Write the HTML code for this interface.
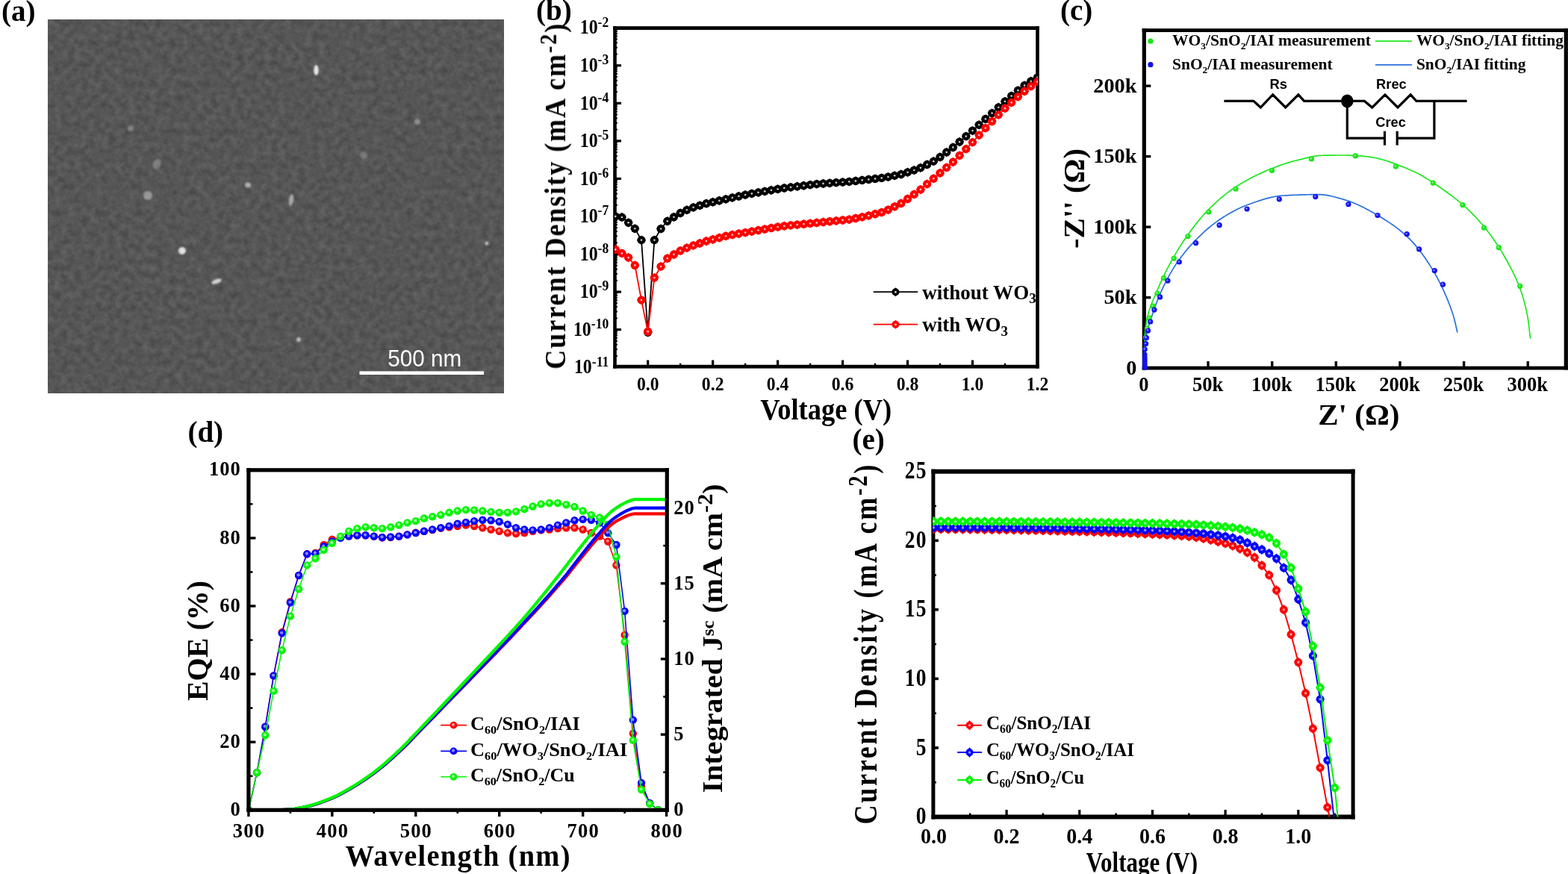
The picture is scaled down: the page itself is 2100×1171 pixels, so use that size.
<!DOCTYPE html>
<html lang="en">
<head>
<meta charset="utf-8">
<title>Figure: SEM, dark J-V, EIS, EQE and J-V characteristics</title>
<style>
html,body{margin:0;padding:0;background:#fff;}
body{width:2100px;height:1171px;overflow:hidden;}
svg{display:block;}
text{white-space:pre;}
.s{font-family:"Liberation Serif", "DejaVu Serif", serif;font-weight:bold;}
.n{font-family:"Liberation Sans", "DejaVu Sans", sans-serif;font-weight:bold;}
</style>
</head>
<body>
<svg width="2100" height="1171" viewBox="0 0 2100 1171">
<defs>
<filter id="sem" x="0" y="0" width="100%" height="100%" color-interpolation-filters="sRGB">
<feTurbulence type="fractalNoise" baseFrequency="0.11" numOctaves="3" seed="7" result="t"/>
<feColorMatrix in="t" type="matrix" values="0.15 0 0 0 0.262  0.15 0 0 0 0.262  0.15 0 0 0 0.262  0 0 0 0 1"/>
</filter>
<filter id="bl" x="-50%" y="-50%" width="200%" height="200%"><feGaussianBlur stdDeviation="1.3"/></filter>
</defs>
<text class="s" transform="translate(2,28)" font-size="39">(a)</text>
<rect x="64.9" y="26.5" width="609.7" height="500" fill="#575757"/>
<rect x="64.9" y="26.5" width="609.7" height="500" fill="#575757" filter="url(#sem)"/>
<g fill="#e8e8e8" filter="url(#bl)">
<ellipse cx="423.5" cy="94" rx="3.2" ry="7" opacity="1.0" transform="rotate(0 423.5 94)"/>
<ellipse cx="244" cy="336" rx="5" ry="5" opacity="0.95" transform="rotate(-20 244 336)"/>
<ellipse cx="290" cy="377" rx="7" ry="3" opacity="0.85" transform="rotate(-20 290 377)"/>
<ellipse cx="390" cy="268" rx="3" ry="8" opacity="0.55" transform="rotate(10 390 268)"/>
<ellipse cx="198" cy="262" rx="6" ry="6" opacity="0.45" transform="rotate(0 198 262)"/>
<ellipse cx="332" cy="248" rx="4" ry="3.5" opacity="0.6" transform="rotate(0 332 248)"/>
<ellipse cx="400" cy="455" rx="3" ry="3" opacity="0.7" transform="rotate(0 400 455)"/>
<ellipse cx="652" cy="326" rx="2.5" ry="2.5" opacity="0.7" transform="rotate(0 652 326)"/>
<ellipse cx="559" cy="163" rx="4" ry="4" opacity="0.35" transform="rotate(0 559 163)"/>
<ellipse cx="210" cy="220" rx="5" ry="7" opacity="0.3" transform="rotate(20 210 220)"/>
<ellipse cx="175" cy="172" rx="4" ry="4" opacity="0.3" transform="rotate(0 175 172)"/>
<ellipse cx="487" cy="208" rx="5" ry="5" opacity="0.25" transform="rotate(0 487 208)"/>
</g>
<rect x="481.5" y="497.4" width="166.5" height="4.6" fill="#fff"/>
<text class="n" transform="translate(568.7,490.6)" font-size="31.5" text-anchor="middle" style="font-weight:normal" fill="#fff" textLength="99" lengthAdjust="spacingAndGlyphs">500 nm</text>
<text class="s" transform="translate(718,26.5)" font-size="39">(b)</text>
<g stroke="#000" stroke-width="3.2">
<line x1="823.5" y1="476.93" x2="826.9" y2="476.93" stroke-width="2"/>
<line x1="823.5" y1="468.03" x2="826.9" y2="468.03" stroke-width="2"/>
<line x1="823.5" y1="461.72" x2="826.9" y2="461.72" stroke-width="2"/>
<line x1="823.5" y1="456.82" x2="826.9" y2="456.82" stroke-width="2"/>
<line x1="823.5" y1="452.81" x2="826.9" y2="452.81" stroke-width="2"/>
<line x1="823.5" y1="449.43" x2="826.9" y2="449.43" stroke-width="2"/>
<line x1="823.5" y1="446.5" x2="826.9" y2="446.5" stroke-width="2"/>
<line x1="823.5" y1="443.91" x2="826.9" y2="443.91" stroke-width="2"/>
<line x1="823.5" y1="441.6" x2="832" y2="441.6"/>
<line x1="823.5" y1="426.38" x2="826.9" y2="426.38" stroke-width="2"/>
<line x1="823.5" y1="417.48" x2="826.9" y2="417.48" stroke-width="2"/>
<line x1="823.5" y1="411.17" x2="826.9" y2="411.17" stroke-width="2"/>
<line x1="823.5" y1="406.27" x2="826.9" y2="406.27" stroke-width="2"/>
<line x1="823.5" y1="402.26" x2="826.9" y2="402.26" stroke-width="2"/>
<line x1="823.5" y1="398.88" x2="826.9" y2="398.88" stroke-width="2"/>
<line x1="823.5" y1="395.95" x2="826.9" y2="395.95" stroke-width="2"/>
<line x1="823.5" y1="393.36" x2="826.9" y2="393.36" stroke-width="2"/>
<line x1="823.5" y1="391.05" x2="832" y2="391.05"/>
<line x1="823.5" y1="375.83" x2="826.9" y2="375.83" stroke-width="2"/>
<line x1="823.5" y1="366.93" x2="826.9" y2="366.93" stroke-width="2"/>
<line x1="823.5" y1="360.62" x2="826.9" y2="360.62" stroke-width="2"/>
<line x1="823.5" y1="355.72" x2="826.9" y2="355.72" stroke-width="2"/>
<line x1="823.5" y1="351.71" x2="826.9" y2="351.71" stroke-width="2"/>
<line x1="823.5" y1="348.33" x2="826.9" y2="348.33" stroke-width="2"/>
<line x1="823.5" y1="345.4" x2="826.9" y2="345.4" stroke-width="2"/>
<line x1="823.5" y1="342.81" x2="826.9" y2="342.81" stroke-width="2"/>
<line x1="823.5" y1="340.5" x2="832" y2="340.5"/>
<line x1="823.5" y1="325.28" x2="826.9" y2="325.28" stroke-width="2"/>
<line x1="823.5" y1="316.38" x2="826.9" y2="316.38" stroke-width="2"/>
<line x1="823.5" y1="310.07" x2="826.9" y2="310.07" stroke-width="2"/>
<line x1="823.5" y1="305.17" x2="826.9" y2="305.17" stroke-width="2"/>
<line x1="823.5" y1="301.16" x2="826.9" y2="301.16" stroke-width="2"/>
<line x1="823.5" y1="297.78" x2="826.9" y2="297.78" stroke-width="2"/>
<line x1="823.5" y1="294.85" x2="826.9" y2="294.85" stroke-width="2"/>
<line x1="823.5" y1="292.26" x2="826.9" y2="292.26" stroke-width="2"/>
<line x1="823.5" y1="289.95" x2="832" y2="289.95"/>
<line x1="823.5" y1="274.73" x2="826.9" y2="274.73" stroke-width="2"/>
<line x1="823.5" y1="265.83" x2="826.9" y2="265.83" stroke-width="2"/>
<line x1="823.5" y1="259.52" x2="826.9" y2="259.52" stroke-width="2"/>
<line x1="823.5" y1="254.62" x2="826.9" y2="254.62" stroke-width="2"/>
<line x1="823.5" y1="250.61" x2="826.9" y2="250.61" stroke-width="2"/>
<line x1="823.5" y1="247.23" x2="826.9" y2="247.23" stroke-width="2"/>
<line x1="823.5" y1="244.3" x2="826.9" y2="244.3" stroke-width="2"/>
<line x1="823.5" y1="241.71" x2="826.9" y2="241.71" stroke-width="2"/>
<line x1="823.5" y1="239.4" x2="832" y2="239.4"/>
<line x1="823.5" y1="224.18" x2="826.9" y2="224.18" stroke-width="2"/>
<line x1="823.5" y1="215.28" x2="826.9" y2="215.28" stroke-width="2"/>
<line x1="823.5" y1="208.97" x2="826.9" y2="208.97" stroke-width="2"/>
<line x1="823.5" y1="204.07" x2="826.9" y2="204.07" stroke-width="2"/>
<line x1="823.5" y1="200.06" x2="826.9" y2="200.06" stroke-width="2"/>
<line x1="823.5" y1="196.68" x2="826.9" y2="196.68" stroke-width="2"/>
<line x1="823.5" y1="193.75" x2="826.9" y2="193.75" stroke-width="2"/>
<line x1="823.5" y1="191.16" x2="826.9" y2="191.16" stroke-width="2"/>
<line x1="823.5" y1="188.85" x2="832" y2="188.85"/>
<line x1="823.5" y1="173.63" x2="826.9" y2="173.63" stroke-width="2"/>
<line x1="823.5" y1="164.73" x2="826.9" y2="164.73" stroke-width="2"/>
<line x1="823.5" y1="158.42" x2="826.9" y2="158.42" stroke-width="2"/>
<line x1="823.5" y1="153.52" x2="826.9" y2="153.52" stroke-width="2"/>
<line x1="823.5" y1="149.51" x2="826.9" y2="149.51" stroke-width="2"/>
<line x1="823.5" y1="146.13" x2="826.9" y2="146.13" stroke-width="2"/>
<line x1="823.5" y1="143.2" x2="826.9" y2="143.2" stroke-width="2"/>
<line x1="823.5" y1="140.61" x2="826.9" y2="140.61" stroke-width="2"/>
<line x1="823.5" y1="138.3" x2="832" y2="138.3"/>
<line x1="823.5" y1="123.08" x2="826.9" y2="123.08" stroke-width="2"/>
<line x1="823.5" y1="114.18" x2="826.9" y2="114.18" stroke-width="2"/>
<line x1="823.5" y1="107.87" x2="826.9" y2="107.87" stroke-width="2"/>
<line x1="823.5" y1="102.97" x2="826.9" y2="102.97" stroke-width="2"/>
<line x1="823.5" y1="98.96" x2="826.9" y2="98.96" stroke-width="2"/>
<line x1="823.5" y1="95.58" x2="826.9" y2="95.58" stroke-width="2"/>
<line x1="823.5" y1="92.65" x2="826.9" y2="92.65" stroke-width="2"/>
<line x1="823.5" y1="90.06" x2="826.9" y2="90.06" stroke-width="2"/>
<line x1="823.5" y1="87.75" x2="832" y2="87.75"/>
<line x1="823.5" y1="72.53" x2="826.9" y2="72.53" stroke-width="2"/>
<line x1="823.5" y1="63.63" x2="826.9" y2="63.63" stroke-width="2"/>
<line x1="823.5" y1="57.32" x2="826.9" y2="57.32" stroke-width="2"/>
<line x1="823.5" y1="52.42" x2="826.9" y2="52.42" stroke-width="2"/>
<line x1="823.5" y1="48.41" x2="826.9" y2="48.41" stroke-width="2"/>
<line x1="823.5" y1="45.03" x2="826.9" y2="45.03" stroke-width="2"/>
<line x1="823.5" y1="42.1" x2="826.9" y2="42.1" stroke-width="2"/>
<line x1="823.5" y1="39.51" x2="826.9" y2="39.51" stroke-width="2"/>
<line x1="867.7" y1="491.2" x2="867.7" y2="482.5"/>
<line x1="911.18" y1="491.2" x2="911.18" y2="486.8" stroke-width="2.4"/>
<line x1="954.66" y1="491.2" x2="954.66" y2="482.5"/>
<line x1="998.14" y1="491.2" x2="998.14" y2="486.8" stroke-width="2.4"/>
<line x1="1041.62" y1="491.2" x2="1041.62" y2="482.5"/>
<line x1="1085.1" y1="491.2" x2="1085.1" y2="486.8" stroke-width="2.4"/>
<line x1="1128.58" y1="491.2" x2="1128.58" y2="482.5"/>
<line x1="1172.06" y1="491.2" x2="1172.06" y2="486.8" stroke-width="2.4"/>
<line x1="1215.54" y1="491.2" x2="1215.54" y2="482.5"/>
<line x1="1259.02" y1="491.2" x2="1259.02" y2="486.8" stroke-width="2.4"/>
<line x1="1302.5" y1="491.2" x2="1302.5" y2="482.5"/>
<line x1="1345.98" y1="491.2" x2="1345.98" y2="486.8" stroke-width="2.4"/>
<line x1="1389.46" y1="491.2" x2="1389.46" y2="482.5"/>
</g>
<text class="s" transform="translate(815.3,500.35) scale(0.9,1)" font-size="26.5" text-anchor="end">10<tspan dy="-9.8" font-size="19.61">-11</tspan></text>
<text class="s" transform="translate(815.3,449.8) scale(0.9,1)" font-size="26.5" text-anchor="end">10<tspan dy="-9.8" font-size="19.61">-10</tspan></text>
<text class="s" transform="translate(815.3,399.25) scale(0.9,1)" font-size="26.5" text-anchor="end">10<tspan dy="-9.8" font-size="19.61">-9</tspan></text>
<text class="s" transform="translate(815.3,348.7) scale(0.9,1)" font-size="26.5" text-anchor="end">10<tspan dy="-9.8" font-size="19.61">-8</tspan></text>
<text class="s" transform="translate(815.3,298.15) scale(0.9,1)" font-size="26.5" text-anchor="end">10<tspan dy="-9.8" font-size="19.61">-7</tspan></text>
<text class="s" transform="translate(815.3,247.6) scale(0.9,1)" font-size="26.5" text-anchor="end">10<tspan dy="-9.8" font-size="19.61">-6</tspan></text>
<text class="s" transform="translate(815.3,197.05) scale(0.9,1)" font-size="26.5" text-anchor="end">10<tspan dy="-9.8" font-size="19.61">-5</tspan></text>
<text class="s" transform="translate(815.3,146.5) scale(0.9,1)" font-size="26.5" text-anchor="end">10<tspan dy="-9.8" font-size="19.61">-4</tspan></text>
<text class="s" transform="translate(815.3,95.95) scale(0.9,1)" font-size="26.5" text-anchor="end">10<tspan dy="-9.8" font-size="19.61">-3</tspan></text>
<text class="s" transform="translate(815.3,45.4) scale(0.9,1)" font-size="26.5" text-anchor="end">10<tspan dy="-9.8" font-size="19.61">-2</tspan></text>
<text class="s" transform="translate(867.7,522.6) scale(0.93,1)" font-size="25.5" text-anchor="middle">0.0</text>
<text class="s" transform="translate(954.66,522.6) scale(0.93,1)" font-size="25.5" text-anchor="middle">0.2</text>
<text class="s" transform="translate(1041.62,522.6) scale(0.93,1)" font-size="25.5" text-anchor="middle">0.4</text>
<text class="s" transform="translate(1128.58,522.6) scale(0.93,1)" font-size="25.5" text-anchor="middle">0.6</text>
<text class="s" transform="translate(1215.54,522.6) scale(0.93,1)" font-size="25.5" text-anchor="middle">0.8</text>
<text class="s" transform="translate(1302.5,522.6) scale(0.93,1)" font-size="25.5" text-anchor="middle">1.0</text>
<text class="s" transform="translate(1389.46,522.6) scale(0.93,1)" font-size="25.5" text-anchor="middle">1.2</text>
<text class="s" transform="translate(1106.2,562.3) scale(0.89,1)" font-size="41" text-anchor="middle">Voltage (V)</text>
<text class="s" transform="translate(757,263.2) rotate(-90) scale(0.88,1)" font-size="41" text-anchor="middle" textLength="526.14" lengthAdjust="spacing">Current Density (mA cm<tspan dy="-12.3" font-size="31.98">-2</tspan><tspan dy="12.3">)</tspan></text>
<clipPath id="clipb"><rect x="822.9" y="37.6" width="567.2" height="453.6"/></clipPath>
<g fill="#000">
<rect x="821.2" y="35.2" width="570.6" height="4.8"/>
<rect x="821.2" y="488.8" width="570.6" height="4.8"/>
<rect x="821.2" y="35.2" width="4.6" height="458.4"/>
<rect x="1387.2" y="35.2" width="4.6" height="458.4"/>
</g>
<g clip-path="url(#clipb)">
<polyline points="824.22,289.9 832.92,291.01 841.61,298.31 850.31,306.23 859,321.66 867.7,445.3 876.4,321.66 885.09,306.51 893.79,296.29 902.48,290.79 911.18,285.47 919.88,281.26 928.57,277.84 937.27,275.27 945.96,272.67 954.66,270.73 963.36,268.79 972.05,266.84 980.75,264.9 989.44,262.96 998.14,261.02 1006.84,259.4 1015.53,257.87 1024.23,256.34 1032.92,254.82 1041.62,253.29 1050.32,251.97 1059.01,250.88 1067.71,249.78 1076.4,248.69 1085.1,247.59 1093.8,246.58 1102.49,245.94 1111.19,245.3 1119.88,244.66 1128.58,244.02 1137.28,243.38 1145.97,242.42 1154.67,241.42 1163.36,240.42 1172.06,239.42 1180.76,238.42 1189.45,236.99 1198.15,235.26 1206.84,233.53 1215.54,230.81 1224.24,228.02 1232.93,224.79 1241.63,220.46 1250.32,216.13 1259.02,210.44 1267.72,203.93 1276.41,197.42 1285.11,190.03 1293.8,182.62 1302.5,175.08 1311.2,167.25 1319.89,159.42 1328.59,151.59 1337.28,143.76 1345.98,135.95 1354.68,128.57 1363.37,121.19 1372.07,114.45 1380.76,108.81 1389.46,103.8" fill="none" stroke="#000" stroke-width="1.8" stroke-linejoin="round"/>
<g fill="#000">
<circle cx="824.22" cy="289.9" r="5.6"/>
<polygon points="824.22,283.7 830.22,289.9 824.22,296.1 818.22,289.9"/>
<circle cx="832.92" cy="291.01" r="5.6"/>
<polygon points="832.92,284.81 838.92,291.01 832.92,297.21 826.92,291.01"/>
<circle cx="841.61" cy="298.31" r="5.6"/>
<polygon points="841.61,292.11 847.61,298.31 841.61,304.51 835.61,298.31"/>
<circle cx="850.31" cy="306.23" r="5.6"/>
<polygon points="850.31,300.03 856.31,306.23 850.31,312.43 844.31,306.23"/>
<circle cx="859" cy="321.66" r="5.6"/>
<polygon points="859,315.46 865,321.66 859,327.86 853,321.66"/>
<circle cx="867.7" cy="445.3" r="5.6"/>
<polygon points="867.7,439.1 873.7,445.3 867.7,451.5 861.7,445.3"/>
<circle cx="876.4" cy="321.66" r="5.6"/>
<polygon points="876.4,315.46 882.4,321.66 876.4,327.86 870.4,321.66"/>
<circle cx="885.09" cy="306.51" r="5.6"/>
<polygon points="885.09,300.31 891.09,306.51 885.09,312.71 879.09,306.51"/>
<circle cx="893.79" cy="296.29" r="5.6"/>
<polygon points="893.79,290.09 899.79,296.29 893.79,302.49 887.79,296.29"/>
<circle cx="902.48" cy="290.79" r="5.6"/>
<polygon points="902.48,284.59 908.48,290.79 902.48,296.99 896.48,290.79"/>
<circle cx="911.18" cy="285.47" r="5.6"/>
<polygon points="911.18,279.27 917.18,285.47 911.18,291.67 905.18,285.47"/>
<circle cx="919.88" cy="281.26" r="5.6"/>
<polygon points="919.88,275.06 925.88,281.26 919.88,287.46 913.88,281.26"/>
<circle cx="928.57" cy="277.84" r="5.6"/>
<polygon points="928.57,271.64 934.57,277.84 928.57,284.04 922.57,277.84"/>
<circle cx="937.27" cy="275.27" r="5.6"/>
<polygon points="937.27,269.07 943.27,275.27 937.27,281.47 931.27,275.27"/>
<circle cx="945.96" cy="272.67" r="5.6"/>
<polygon points="945.96,266.47 951.96,272.67 945.96,278.87 939.96,272.67"/>
<circle cx="954.66" cy="270.73" r="5.6"/>
<polygon points="954.66,264.53 960.66,270.73 954.66,276.93 948.66,270.73"/>
<circle cx="963.36" cy="268.79" r="5.6"/>
<polygon points="963.36,262.59 969.36,268.79 963.36,274.99 957.36,268.79"/>
<circle cx="972.05" cy="266.84" r="5.6"/>
<polygon points="972.05,260.64 978.05,266.84 972.05,273.04 966.05,266.84"/>
<circle cx="980.75" cy="264.9" r="5.6"/>
<polygon points="980.75,258.7 986.75,264.9 980.75,271.1 974.75,264.9"/>
<circle cx="989.44" cy="262.96" r="5.6"/>
<polygon points="989.44,256.76 995.44,262.96 989.44,269.16 983.44,262.96"/>
<circle cx="998.14" cy="261.02" r="5.6"/>
<polygon points="998.14,254.82 1004.14,261.02 998.14,267.22 992.14,261.02"/>
<circle cx="1006.84" cy="259.4" r="5.6"/>
<polygon points="1006.84,253.2 1012.84,259.4 1006.84,265.6 1000.84,259.4"/>
<circle cx="1015.53" cy="257.87" r="5.6"/>
<polygon points="1015.53,251.67 1021.53,257.87 1015.53,264.07 1009.53,257.87"/>
<circle cx="1024.23" cy="256.34" r="5.6"/>
<polygon points="1024.23,250.14 1030.23,256.34 1024.23,262.54 1018.23,256.34"/>
<circle cx="1032.92" cy="254.82" r="5.6"/>
<polygon points="1032.92,248.62 1038.92,254.82 1032.92,261.02 1026.92,254.82"/>
<circle cx="1041.62" cy="253.29" r="5.6"/>
<polygon points="1041.62,247.09 1047.62,253.29 1041.62,259.49 1035.62,253.29"/>
<circle cx="1050.32" cy="251.97" r="5.6"/>
<polygon points="1050.32,245.77 1056.32,251.97 1050.32,258.17 1044.32,251.97"/>
<circle cx="1059.01" cy="250.88" r="5.6"/>
<polygon points="1059.01,244.68 1065.01,250.88 1059.01,257.08 1053.01,250.88"/>
<circle cx="1067.71" cy="249.78" r="5.6"/>
<polygon points="1067.71,243.58 1073.71,249.78 1067.71,255.98 1061.71,249.78"/>
<circle cx="1076.4" cy="248.69" r="5.6"/>
<polygon points="1076.4,242.49 1082.4,248.69 1076.4,254.89 1070.4,248.69"/>
<circle cx="1085.1" cy="247.59" r="5.6"/>
<polygon points="1085.1,241.39 1091.1,247.59 1085.1,253.79 1079.1,247.59"/>
<circle cx="1093.8" cy="246.58" r="5.6"/>
<polygon points="1093.8,240.38 1099.8,246.58 1093.8,252.78 1087.8,246.58"/>
<circle cx="1102.49" cy="245.94" r="5.6"/>
<polygon points="1102.49,239.74 1108.49,245.94 1102.49,252.14 1096.49,245.94"/>
<circle cx="1111.19" cy="245.3" r="5.6"/>
<polygon points="1111.19,239.1 1117.19,245.3 1111.19,251.5 1105.19,245.3"/>
<circle cx="1119.88" cy="244.66" r="5.6"/>
<polygon points="1119.88,238.46 1125.88,244.66 1119.88,250.86 1113.88,244.66"/>
<circle cx="1128.58" cy="244.02" r="5.6"/>
<polygon points="1128.58,237.82 1134.58,244.02 1128.58,250.22 1122.58,244.02"/>
<circle cx="1137.28" cy="243.38" r="5.6"/>
<polygon points="1137.28,237.18 1143.28,243.38 1137.28,249.58 1131.28,243.38"/>
<circle cx="1145.97" cy="242.42" r="5.6"/>
<polygon points="1145.97,236.22 1151.97,242.42 1145.97,248.62 1139.97,242.42"/>
<circle cx="1154.67" cy="241.42" r="5.6"/>
<polygon points="1154.67,235.22 1160.67,241.42 1154.67,247.62 1148.67,241.42"/>
<circle cx="1163.36" cy="240.42" r="5.6"/>
<polygon points="1163.36,234.22 1169.36,240.42 1163.36,246.62 1157.36,240.42"/>
<circle cx="1172.06" cy="239.42" r="5.6"/>
<polygon points="1172.06,233.22 1178.06,239.42 1172.06,245.62 1166.06,239.42"/>
<circle cx="1180.76" cy="238.42" r="5.6"/>
<polygon points="1180.76,232.22 1186.76,238.42 1180.76,244.62 1174.76,238.42"/>
<circle cx="1189.45" cy="236.99" r="5.6"/>
<polygon points="1189.45,230.79 1195.45,236.99 1189.45,243.19 1183.45,236.99"/>
<circle cx="1198.15" cy="235.26" r="5.6"/>
<polygon points="1198.15,229.06 1204.15,235.26 1198.15,241.46 1192.15,235.26"/>
<circle cx="1206.84" cy="233.53" r="5.6"/>
<polygon points="1206.84,227.33 1212.84,233.53 1206.84,239.73 1200.84,233.53"/>
<circle cx="1215.54" cy="230.81" r="5.6"/>
<polygon points="1215.54,224.61 1221.54,230.81 1215.54,237.01 1209.54,230.81"/>
<circle cx="1224.24" cy="228.02" r="5.6"/>
<polygon points="1224.24,221.82 1230.24,228.02 1224.24,234.22 1218.24,228.02"/>
<circle cx="1232.93" cy="224.79" r="5.6"/>
<polygon points="1232.93,218.59 1238.93,224.79 1232.93,230.99 1226.93,224.79"/>
<circle cx="1241.63" cy="220.46" r="5.6"/>
<polygon points="1241.63,214.26 1247.63,220.46 1241.63,226.66 1235.63,220.46"/>
<circle cx="1250.32" cy="216.13" r="5.6"/>
<polygon points="1250.32,209.93 1256.32,216.13 1250.32,222.33 1244.32,216.13"/>
<circle cx="1259.02" cy="210.44" r="5.6"/>
<polygon points="1259.02,204.24 1265.02,210.44 1259.02,216.64 1253.02,210.44"/>
<circle cx="1267.72" cy="203.93" r="5.6"/>
<polygon points="1267.72,197.73 1273.72,203.93 1267.72,210.13 1261.72,203.93"/>
<circle cx="1276.41" cy="197.42" r="5.6"/>
<polygon points="1276.41,191.22 1282.41,197.42 1276.41,203.62 1270.41,197.42"/>
<circle cx="1285.11" cy="190.03" r="5.6"/>
<polygon points="1285.11,183.83 1291.11,190.03 1285.11,196.23 1279.11,190.03"/>
<circle cx="1293.8" cy="182.62" r="5.6"/>
<polygon points="1293.8,176.42 1299.8,182.62 1293.8,188.82 1287.8,182.62"/>
<circle cx="1302.5" cy="175.08" r="5.6"/>
<polygon points="1302.5,168.88 1308.5,175.08 1302.5,181.28 1296.5,175.08"/>
<circle cx="1311.2" cy="167.25" r="5.6"/>
<polygon points="1311.2,161.05 1317.2,167.25 1311.2,173.45 1305.2,167.25"/>
<circle cx="1319.89" cy="159.42" r="5.6"/>
<polygon points="1319.89,153.22 1325.89,159.42 1319.89,165.62 1313.89,159.42"/>
<circle cx="1328.59" cy="151.59" r="5.6"/>
<polygon points="1328.59,145.39 1334.59,151.59 1328.59,157.79 1322.59,151.59"/>
<circle cx="1337.28" cy="143.76" r="5.6"/>
<polygon points="1337.28,137.56 1343.28,143.76 1337.28,149.96 1331.28,143.76"/>
<circle cx="1345.98" cy="135.95" r="5.6"/>
<polygon points="1345.98,129.75 1351.98,135.95 1345.98,142.15 1339.98,135.95"/>
<circle cx="1354.68" cy="128.57" r="5.6"/>
<polygon points="1354.68,122.37 1360.68,128.57 1354.68,134.77 1348.68,128.57"/>
<circle cx="1363.37" cy="121.19" r="5.6"/>
<polygon points="1363.37,114.99 1369.37,121.19 1363.37,127.39 1357.37,121.19"/>
<circle cx="1372.07" cy="114.45" r="5.6"/>
<polygon points="1372.07,108.25 1378.07,114.45 1372.07,120.65 1366.07,114.45"/>
<circle cx="1380.76" cy="108.81" r="5.6"/>
<polygon points="1380.76,102.61 1386.76,108.81 1380.76,115.01 1374.76,108.81"/>
<circle cx="1389.46" cy="103.8" r="5.6"/>
<polygon points="1389.46,97.6 1395.46,103.8 1389.46,110 1383.46,103.8"/>
</g><g fill="#c4c4c4">
<circle cx="824.22" cy="289.9" r="1.35"/>
<circle cx="832.92" cy="291.01" r="1.35"/>
<circle cx="841.61" cy="298.31" r="1.35"/>
<circle cx="850.31" cy="306.23" r="1.35"/>
<circle cx="859" cy="321.66" r="1.35"/>
<circle cx="867.7" cy="445.3" r="1.35"/>
<circle cx="876.4" cy="321.66" r="1.35"/>
<circle cx="885.09" cy="306.51" r="1.35"/>
<circle cx="893.79" cy="296.29" r="1.35"/>
<circle cx="902.48" cy="290.79" r="1.35"/>
<circle cx="911.18" cy="285.47" r="1.35"/>
<circle cx="919.88" cy="281.26" r="1.35"/>
<circle cx="928.57" cy="277.84" r="1.35"/>
<circle cx="937.27" cy="275.27" r="1.35"/>
<circle cx="945.96" cy="272.67" r="1.35"/>
<circle cx="954.66" cy="270.73" r="1.35"/>
<circle cx="963.36" cy="268.79" r="1.35"/>
<circle cx="972.05" cy="266.84" r="1.35"/>
<circle cx="980.75" cy="264.9" r="1.35"/>
<circle cx="989.44" cy="262.96" r="1.35"/>
<circle cx="998.14" cy="261.02" r="1.35"/>
<circle cx="1006.84" cy="259.4" r="1.35"/>
<circle cx="1015.53" cy="257.87" r="1.35"/>
<circle cx="1024.23" cy="256.34" r="1.35"/>
<circle cx="1032.92" cy="254.82" r="1.35"/>
<circle cx="1041.62" cy="253.29" r="1.35"/>
<circle cx="1050.32" cy="251.97" r="1.35"/>
<circle cx="1059.01" cy="250.88" r="1.35"/>
<circle cx="1067.71" cy="249.78" r="1.35"/>
<circle cx="1076.4" cy="248.69" r="1.35"/>
<circle cx="1085.1" cy="247.59" r="1.35"/>
<circle cx="1093.8" cy="246.58" r="1.35"/>
<circle cx="1102.49" cy="245.94" r="1.35"/>
<circle cx="1111.19" cy="245.3" r="1.35"/>
<circle cx="1119.88" cy="244.66" r="1.35"/>
<circle cx="1128.58" cy="244.02" r="1.35"/>
<circle cx="1137.28" cy="243.38" r="1.35"/>
<circle cx="1145.97" cy="242.42" r="1.35"/>
<circle cx="1154.67" cy="241.42" r="1.35"/>
<circle cx="1163.36" cy="240.42" r="1.35"/>
<circle cx="1172.06" cy="239.42" r="1.35"/>
<circle cx="1180.76" cy="238.42" r="1.35"/>
<circle cx="1189.45" cy="236.99" r="1.35"/>
<circle cx="1198.15" cy="235.26" r="1.35"/>
<circle cx="1206.84" cy="233.53" r="1.35"/>
<circle cx="1215.54" cy="230.81" r="1.35"/>
<circle cx="1224.24" cy="228.02" r="1.35"/>
<circle cx="1232.93" cy="224.79" r="1.35"/>
<circle cx="1241.63" cy="220.46" r="1.35"/>
<circle cx="1250.32" cy="216.13" r="1.35"/>
<circle cx="1259.02" cy="210.44" r="1.35"/>
<circle cx="1267.72" cy="203.93" r="1.35"/>
<circle cx="1276.41" cy="197.42" r="1.35"/>
<circle cx="1285.11" cy="190.03" r="1.35"/>
<circle cx="1293.8" cy="182.62" r="1.35"/>
<circle cx="1302.5" cy="175.08" r="1.35"/>
<circle cx="1311.2" cy="167.25" r="1.35"/>
<circle cx="1319.89" cy="159.42" r="1.35"/>
<circle cx="1328.59" cy="151.59" r="1.35"/>
<circle cx="1337.28" cy="143.76" r="1.35"/>
<circle cx="1345.98" cy="135.95" r="1.35"/>
<circle cx="1354.68" cy="128.57" r="1.35"/>
<circle cx="1363.37" cy="121.19" r="1.35"/>
<circle cx="1372.07" cy="114.45" r="1.35"/>
<circle cx="1380.76" cy="108.81" r="1.35"/>
<circle cx="1389.46" cy="103.8" r="1.35"/>
</g>
</g>
<g clip-path="url(#clipb)">
<polyline points="824.22,334.3 832.92,339.41 841.61,345.02 850.31,355.44 859,402.02 867.7,444.2 876.4,372.03 885.09,357.01 893.79,346.21 902.48,340.97 911.18,335.92 919.88,332.1 928.57,328.9 937.27,325.96 945.96,323.05 954.66,320.79 963.36,318.53 972.05,316.27 980.75,314.51 989.44,313.06 998.14,311.61 1006.84,310.1 1015.53,308.57 1024.23,307.04 1032.92,305.52 1041.62,303.99 1050.32,302.78 1059.01,301.91 1067.71,301.04 1076.4,300.18 1085.1,299.31 1093.8,298.44 1102.49,297.57 1111.19,296.71 1119.88,295.84 1128.58,294.97 1137.28,294.1 1145.97,292.47 1154.67,290.74 1163.36,288.9 1172.06,286.71 1180.76,284.52 1189.45,281.08 1198.15,276.76 1206.84,272.43 1215.54,266.47 1224.24,260.38 1232.93,253.94 1241.63,246.56 1250.32,239.18 1259.02,231.8 1267.72,224.42 1276.41,217.04 1285.11,208.36 1293.8,199.62 1302.5,190.63 1311.2,181.11 1319.89,171.58 1328.59,162.59 1337.28,153.85 1345.98,145.14 1354.68,137.35 1363.37,129.55 1372.07,122.18 1380.76,115.52 1389.46,109.6" fill="none" stroke="#f00" stroke-width="1.8" stroke-linejoin="round"/>
<g fill="#f00">
<circle cx="824.22" cy="334.3" r="5.6"/>
<polygon points="824.22,328.1 830.22,334.3 824.22,340.5 818.22,334.3"/>
<circle cx="832.92" cy="339.41" r="5.6"/>
<polygon points="832.92,333.21 838.92,339.41 832.92,345.61 826.92,339.41"/>
<circle cx="841.61" cy="345.02" r="5.6"/>
<polygon points="841.61,338.82 847.61,345.02 841.61,351.22 835.61,345.02"/>
<circle cx="850.31" cy="355.44" r="5.6"/>
<polygon points="850.31,349.24 856.31,355.44 850.31,361.64 844.31,355.44"/>
<circle cx="859" cy="402.02" r="5.6"/>
<polygon points="859,395.82 865,402.02 859,408.22 853,402.02"/>
<circle cx="867.7" cy="444.2" r="5.6"/>
<polygon points="867.7,438 873.7,444.2 867.7,450.4 861.7,444.2"/>
<circle cx="876.4" cy="372.03" r="5.6"/>
<polygon points="876.4,365.83 882.4,372.03 876.4,378.23 870.4,372.03"/>
<circle cx="885.09" cy="357.01" r="5.6"/>
<polygon points="885.09,350.81 891.09,357.01 885.09,363.21 879.09,357.01"/>
<circle cx="893.79" cy="346.21" r="5.6"/>
<polygon points="893.79,340.01 899.79,346.21 893.79,352.41 887.79,346.21"/>
<circle cx="902.48" cy="340.97" r="5.6"/>
<polygon points="902.48,334.77 908.48,340.97 902.48,347.17 896.48,340.97"/>
<circle cx="911.18" cy="335.92" r="5.6"/>
<polygon points="911.18,329.72 917.18,335.92 911.18,342.12 905.18,335.92"/>
<circle cx="919.88" cy="332.1" r="5.6"/>
<polygon points="919.88,325.9 925.88,332.1 919.88,338.3 913.88,332.1"/>
<circle cx="928.57" cy="328.9" r="5.6"/>
<polygon points="928.57,322.7 934.57,328.9 928.57,335.1 922.57,328.9"/>
<circle cx="937.27" cy="325.96" r="5.6"/>
<polygon points="937.27,319.76 943.27,325.96 937.27,332.16 931.27,325.96"/>
<circle cx="945.96" cy="323.05" r="5.6"/>
<polygon points="945.96,316.85 951.96,323.05 945.96,329.25 939.96,323.05"/>
<circle cx="954.66" cy="320.79" r="5.6"/>
<polygon points="954.66,314.59 960.66,320.79 954.66,326.99 948.66,320.79"/>
<circle cx="963.36" cy="318.53" r="5.6"/>
<polygon points="963.36,312.33 969.36,318.53 963.36,324.73 957.36,318.53"/>
<circle cx="972.05" cy="316.27" r="5.6"/>
<polygon points="972.05,310.07 978.05,316.27 972.05,322.47 966.05,316.27"/>
<circle cx="980.75" cy="314.51" r="5.6"/>
<polygon points="980.75,308.31 986.75,314.51 980.75,320.71 974.75,314.51"/>
<circle cx="989.44" cy="313.06" r="5.6"/>
<polygon points="989.44,306.86 995.44,313.06 989.44,319.26 983.44,313.06"/>
<circle cx="998.14" cy="311.61" r="5.6"/>
<polygon points="998.14,305.41 1004.14,311.61 998.14,317.81 992.14,311.61"/>
<circle cx="1006.84" cy="310.1" r="5.6"/>
<polygon points="1006.84,303.9 1012.84,310.1 1006.84,316.3 1000.84,310.1"/>
<circle cx="1015.53" cy="308.57" r="5.6"/>
<polygon points="1015.53,302.37 1021.53,308.57 1015.53,314.77 1009.53,308.57"/>
<circle cx="1024.23" cy="307.04" r="5.6"/>
<polygon points="1024.23,300.84 1030.23,307.04 1024.23,313.24 1018.23,307.04"/>
<circle cx="1032.92" cy="305.52" r="5.6"/>
<polygon points="1032.92,299.32 1038.92,305.52 1032.92,311.72 1026.92,305.52"/>
<circle cx="1041.62" cy="303.99" r="5.6"/>
<polygon points="1041.62,297.79 1047.62,303.99 1041.62,310.19 1035.62,303.99"/>
<circle cx="1050.32" cy="302.78" r="5.6"/>
<polygon points="1050.32,296.58 1056.32,302.78 1050.32,308.98 1044.32,302.78"/>
<circle cx="1059.01" cy="301.91" r="5.6"/>
<polygon points="1059.01,295.71 1065.01,301.91 1059.01,308.11 1053.01,301.91"/>
<circle cx="1067.71" cy="301.04" r="5.6"/>
<polygon points="1067.71,294.84 1073.71,301.04 1067.71,307.24 1061.71,301.04"/>
<circle cx="1076.4" cy="300.18" r="5.6"/>
<polygon points="1076.4,293.98 1082.4,300.18 1076.4,306.38 1070.4,300.18"/>
<circle cx="1085.1" cy="299.31" r="5.6"/>
<polygon points="1085.1,293.11 1091.1,299.31 1085.1,305.51 1079.1,299.31"/>
<circle cx="1093.8" cy="298.44" r="5.6"/>
<polygon points="1093.8,292.24 1099.8,298.44 1093.8,304.64 1087.8,298.44"/>
<circle cx="1102.49" cy="297.57" r="5.6"/>
<polygon points="1102.49,291.37 1108.49,297.57 1102.49,303.77 1096.49,297.57"/>
<circle cx="1111.19" cy="296.71" r="5.6"/>
<polygon points="1111.19,290.51 1117.19,296.71 1111.19,302.91 1105.19,296.71"/>
<circle cx="1119.88" cy="295.84" r="5.6"/>
<polygon points="1119.88,289.64 1125.88,295.84 1119.88,302.04 1113.88,295.84"/>
<circle cx="1128.58" cy="294.97" r="5.6"/>
<polygon points="1128.58,288.77 1134.58,294.97 1128.58,301.17 1122.58,294.97"/>
<circle cx="1137.28" cy="294.1" r="5.6"/>
<polygon points="1137.28,287.9 1143.28,294.1 1137.28,300.3 1131.28,294.1"/>
<circle cx="1145.97" cy="292.47" r="5.6"/>
<polygon points="1145.97,286.27 1151.97,292.47 1145.97,298.67 1139.97,292.47"/>
<circle cx="1154.67" cy="290.74" r="5.6"/>
<polygon points="1154.67,284.54 1160.67,290.74 1154.67,296.94 1148.67,290.74"/>
<circle cx="1163.36" cy="288.9" r="5.6"/>
<polygon points="1163.36,282.7 1169.36,288.9 1163.36,295.1 1157.36,288.9"/>
<circle cx="1172.06" cy="286.71" r="5.6"/>
<polygon points="1172.06,280.51 1178.06,286.71 1172.06,292.91 1166.06,286.71"/>
<circle cx="1180.76" cy="284.52" r="5.6"/>
<polygon points="1180.76,278.32 1186.76,284.52 1180.76,290.72 1174.76,284.52"/>
<circle cx="1189.45" cy="281.08" r="5.6"/>
<polygon points="1189.45,274.88 1195.45,281.08 1189.45,287.28 1183.45,281.08"/>
<circle cx="1198.15" cy="276.76" r="5.6"/>
<polygon points="1198.15,270.56 1204.15,276.76 1198.15,282.96 1192.15,276.76"/>
<circle cx="1206.84" cy="272.43" r="5.6"/>
<polygon points="1206.84,266.23 1212.84,272.43 1206.84,278.63 1200.84,272.43"/>
<circle cx="1215.54" cy="266.47" r="5.6"/>
<polygon points="1215.54,260.27 1221.54,266.47 1215.54,272.67 1209.54,266.47"/>
<circle cx="1224.24" cy="260.38" r="5.6"/>
<polygon points="1224.24,254.18 1230.24,260.38 1224.24,266.58 1218.24,260.38"/>
<circle cx="1232.93" cy="253.94" r="5.6"/>
<polygon points="1232.93,247.74 1238.93,253.94 1232.93,260.14 1226.93,253.94"/>
<circle cx="1241.63" cy="246.56" r="5.6"/>
<polygon points="1241.63,240.36 1247.63,246.56 1241.63,252.76 1235.63,246.56"/>
<circle cx="1250.32" cy="239.18" r="5.6"/>
<polygon points="1250.32,232.98 1256.32,239.18 1250.32,245.38 1244.32,239.18"/>
<circle cx="1259.02" cy="231.8" r="5.6"/>
<polygon points="1259.02,225.6 1265.02,231.8 1259.02,238 1253.02,231.8"/>
<circle cx="1267.72" cy="224.42" r="5.6"/>
<polygon points="1267.72,218.22 1273.72,224.42 1267.72,230.62 1261.72,224.42"/>
<circle cx="1276.41" cy="217.04" r="5.6"/>
<polygon points="1276.41,210.84 1282.41,217.04 1276.41,223.24 1270.41,217.04"/>
<circle cx="1285.11" cy="208.36" r="5.6"/>
<polygon points="1285.11,202.16 1291.11,208.36 1285.11,214.56 1279.11,208.36"/>
<circle cx="1293.8" cy="199.62" r="5.6"/>
<polygon points="1293.8,193.42 1299.8,199.62 1293.8,205.82 1287.8,199.62"/>
<circle cx="1302.5" cy="190.63" r="5.6"/>
<polygon points="1302.5,184.43 1308.5,190.63 1302.5,196.83 1296.5,190.63"/>
<circle cx="1311.2" cy="181.11" r="5.6"/>
<polygon points="1311.2,174.91 1317.2,181.11 1311.2,187.31 1305.2,181.11"/>
<circle cx="1319.89" cy="171.58" r="5.6"/>
<polygon points="1319.89,165.38 1325.89,171.58 1319.89,177.78 1313.89,171.58"/>
<circle cx="1328.59" cy="162.59" r="5.6"/>
<polygon points="1328.59,156.39 1334.59,162.59 1328.59,168.79 1322.59,162.59"/>
<circle cx="1337.28" cy="153.85" r="5.6"/>
<polygon points="1337.28,147.65 1343.28,153.85 1337.28,160.05 1331.28,153.85"/>
<circle cx="1345.98" cy="145.14" r="5.6"/>
<polygon points="1345.98,138.94 1351.98,145.14 1345.98,151.34 1339.98,145.14"/>
<circle cx="1354.68" cy="137.35" r="5.6"/>
<polygon points="1354.68,131.15 1360.68,137.35 1354.68,143.55 1348.68,137.35"/>
<circle cx="1363.37" cy="129.55" r="5.6"/>
<polygon points="1363.37,123.35 1369.37,129.55 1363.37,135.75 1357.37,129.55"/>
<circle cx="1372.07" cy="122.18" r="5.6"/>
<polygon points="1372.07,115.98 1378.07,122.18 1372.07,128.38 1366.07,122.18"/>
<circle cx="1380.76" cy="115.52" r="5.6"/>
<polygon points="1380.76,109.32 1386.76,115.52 1380.76,121.72 1374.76,115.52"/>
<circle cx="1389.46" cy="109.6" r="5.6"/>
<polygon points="1389.46,103.4 1395.46,109.6 1389.46,115.8 1383.46,109.6"/>
</g><g fill="#ffc4c4">
<circle cx="824.22" cy="334.3" r="1.35"/>
<circle cx="832.92" cy="339.41" r="1.35"/>
<circle cx="841.61" cy="345.02" r="1.35"/>
<circle cx="850.31" cy="355.44" r="1.35"/>
<circle cx="859" cy="402.02" r="1.35"/>
<circle cx="867.7" cy="444.2" r="1.35"/>
<circle cx="876.4" cy="372.03" r="1.35"/>
<circle cx="885.09" cy="357.01" r="1.35"/>
<circle cx="893.79" cy="346.21" r="1.35"/>
<circle cx="902.48" cy="340.97" r="1.35"/>
<circle cx="911.18" cy="335.92" r="1.35"/>
<circle cx="919.88" cy="332.1" r="1.35"/>
<circle cx="928.57" cy="328.9" r="1.35"/>
<circle cx="937.27" cy="325.96" r="1.35"/>
<circle cx="945.96" cy="323.05" r="1.35"/>
<circle cx="954.66" cy="320.79" r="1.35"/>
<circle cx="963.36" cy="318.53" r="1.35"/>
<circle cx="972.05" cy="316.27" r="1.35"/>
<circle cx="980.75" cy="314.51" r="1.35"/>
<circle cx="989.44" cy="313.06" r="1.35"/>
<circle cx="998.14" cy="311.61" r="1.35"/>
<circle cx="1006.84" cy="310.1" r="1.35"/>
<circle cx="1015.53" cy="308.57" r="1.35"/>
<circle cx="1024.23" cy="307.04" r="1.35"/>
<circle cx="1032.92" cy="305.52" r="1.35"/>
<circle cx="1041.62" cy="303.99" r="1.35"/>
<circle cx="1050.32" cy="302.78" r="1.35"/>
<circle cx="1059.01" cy="301.91" r="1.35"/>
<circle cx="1067.71" cy="301.04" r="1.35"/>
<circle cx="1076.4" cy="300.18" r="1.35"/>
<circle cx="1085.1" cy="299.31" r="1.35"/>
<circle cx="1093.8" cy="298.44" r="1.35"/>
<circle cx="1102.49" cy="297.57" r="1.35"/>
<circle cx="1111.19" cy="296.71" r="1.35"/>
<circle cx="1119.88" cy="295.84" r="1.35"/>
<circle cx="1128.58" cy="294.97" r="1.35"/>
<circle cx="1137.28" cy="294.1" r="1.35"/>
<circle cx="1145.97" cy="292.47" r="1.35"/>
<circle cx="1154.67" cy="290.74" r="1.35"/>
<circle cx="1163.36" cy="288.9" r="1.35"/>
<circle cx="1172.06" cy="286.71" r="1.35"/>
<circle cx="1180.76" cy="284.52" r="1.35"/>
<circle cx="1189.45" cy="281.08" r="1.35"/>
<circle cx="1198.15" cy="276.76" r="1.35"/>
<circle cx="1206.84" cy="272.43" r="1.35"/>
<circle cx="1215.54" cy="266.47" r="1.35"/>
<circle cx="1224.24" cy="260.38" r="1.35"/>
<circle cx="1232.93" cy="253.94" r="1.35"/>
<circle cx="1241.63" cy="246.56" r="1.35"/>
<circle cx="1250.32" cy="239.18" r="1.35"/>
<circle cx="1259.02" cy="231.8" r="1.35"/>
<circle cx="1267.72" cy="224.42" r="1.35"/>
<circle cx="1276.41" cy="217.04" r="1.35"/>
<circle cx="1285.11" cy="208.36" r="1.35"/>
<circle cx="1293.8" cy="199.62" r="1.35"/>
<circle cx="1302.5" cy="190.63" r="1.35"/>
<circle cx="1311.2" cy="181.11" r="1.35"/>
<circle cx="1319.89" cy="171.58" r="1.35"/>
<circle cx="1328.59" cy="162.59" r="1.35"/>
<circle cx="1337.28" cy="153.85" r="1.35"/>
<circle cx="1345.98" cy="145.14" r="1.35"/>
<circle cx="1354.68" cy="137.35" r="1.35"/>
<circle cx="1363.37" cy="129.55" r="1.35"/>
<circle cx="1372.07" cy="122.18" r="1.35"/>
<circle cx="1380.76" cy="115.52" r="1.35"/>
<circle cx="1389.46" cy="109.6" r="1.35"/>
</g>
</g>
<line x1="1169.7" y1="391.2" x2="1229.2" y2="391.2" stroke="#000" stroke-width="1.8"/>
<g fill="#000">
<circle cx="1199.4" cy="391.2" r="5"/>
<polygon points="1199.4,385.2 1205.2,391.2 1199.4,397.2 1193.6,391.2"/>
</g><g fill="#c8c8c8">
<circle cx="1199.4" cy="391.2" r="1.5"/>
</g>
<text class="s" transform="translate(1235.3,400.9) scale(1.02,1)" font-size="26.5">without WO<tspan dy="5.3" font-size="18.55">3</tspan></text>
<line x1="1169.7" y1="434.7" x2="1229.2" y2="434.7" stroke="#f00" stroke-width="1.8"/>
<g fill="#f00">
<circle cx="1199.4" cy="434.7" r="5"/>
<polygon points="1199.4,428.7 1205.2,434.7 1199.4,440.7 1193.6,434.7"/>
</g><g fill="#ffc0c0">
<circle cx="1199.4" cy="434.7" r="1.5"/>
</g>
<text class="s" transform="translate(1235.3,444.4) scale(1.02,1)" font-size="26.5">with WO<tspan dy="5.3" font-size="18.55">3</tspan></text>
<text class="s" transform="translate(1420,27.4)" font-size="39">(c)</text>
<g stroke="#000" stroke-width="3.4">
<line x1="1532.3" y1="398.6" x2="1541.3" y2="398.6"/>
<line x1="1532.3" y1="304.1" x2="1541.3" y2="304.1"/>
<line x1="1532.3" y1="209.6" x2="1541.3" y2="209.6"/>
<line x1="1532.3" y1="115.1" x2="1541.3" y2="115.1"/>
<line x1="1618.04" y1="493.1" x2="1618.04" y2="484.1"/>
<line x1="1703.68" y1="493.1" x2="1703.68" y2="484.1"/>
<line x1="1789.32" y1="493.1" x2="1789.32" y2="484.1"/>
<line x1="1874.96" y1="493.1" x2="1874.96" y2="484.1"/>
<line x1="1960.6" y1="493.1" x2="1960.6" y2="484.1"/>
<line x1="2046.24" y1="493.1" x2="2046.24" y2="484.1"/>
</g>
<text class="s" transform="translate(1522.5,501.7) scale(1.07,1)" font-size="26.5" text-anchor="end">0</text>
<text class="s" transform="translate(1522.5,407.2) scale(1.07,1)" font-size="26.5" text-anchor="end">50k</text>
<text class="s" transform="translate(1522.5,312.7) scale(1.07,1)" font-size="26.5" text-anchor="end">100k</text>
<text class="s" transform="translate(1522.5,218.2) scale(1.07,1)" font-size="26.5" text-anchor="end">150k</text>
<text class="s" transform="translate(1522.5,123.7) scale(1.07,1)" font-size="26.5" text-anchor="end">200k</text>
<text class="s" transform="translate(1531.9,523.8)" font-size="26.5" text-anchor="middle">0</text>
<text class="s" transform="translate(1617.54,523.8)" font-size="26.5" text-anchor="middle">50k</text>
<text class="s" transform="translate(1703.18,523.8)" font-size="26.5" text-anchor="middle">100k</text>
<text class="s" transform="translate(1788.82,523.8)" font-size="26.5" text-anchor="middle">150k</text>
<text class="s" transform="translate(1874.46,523.8)" font-size="26.5" text-anchor="middle">200k</text>
<text class="s" transform="translate(1960.1,523.8)" font-size="26.5" text-anchor="middle">250k</text>
<text class="s" transform="translate(2045.74,523.8)" font-size="26.5" text-anchor="middle">300k</text>
<text class="s" transform="translate(1819.8,568.9)" font-size="41" text-anchor="middle">Z' (Ω)</text>
<text class="s" transform="translate(1452,266) rotate(-90)" font-size="41" text-anchor="middle">-Z'' (Ω)</text>
<g fill="#000">
<rect x="1529.7" y="38.2" width="570.2" height="4.8"/>
<rect x="1529.7" y="490.7" width="570.2" height="4.8"/>
<rect x="1529.7" y="38.2" width="5.2" height="457.3"/>
<rect x="2094.7" y="38.2" width="5.2" height="457.3"/>
</g>
<clipPath id="clipc"><rect x="1530.3" y="40.6" width="565" height="454.9"/></clipPath>
<g clip-path="url(#clipc)">
<polyline points="1532.4,493 1532.42,487.86 1532.44,482.72 1532.45,477.57 1532.48,472.43 1532.54,467.29 1532.69,462.15 1532.93,457.01 1533.21,451.88 1533.57,446.74 1534.06,441.61 1534.68,436.49 1535.4,431.4 1536.26,426.37 1537.47,421.38 1538.97,416.43 1540.61,411.54 1542.33,406.71 1544.28,401.95 1546.35,397.23 1548.39,392.51 1550.4,387.77 1552.43,383.04 1554.5,378.34 1556.64,373.66 1558.86,369.03 1561.14,364.42 1563.48,359.83 1565.87,355.27 1568.32,350.75 1570.82,346.26 1573.38,341.81 1576,337.38 1578.68,332.98 1581.42,328.61 1584.22,324.28 1587.08,320.01 1590,315.8 1593,311.64 1596.05,307.49 1599.16,303.37 1602.34,299.29 1605.6,295.26 1608.92,291.31 1612.31,287.45 1615.78,283.69 1619.33,280.05 1622.98,276.46 1626.72,272.9 1630.54,269.39 1634.44,265.96 1638.42,262.61 1642.46,259.37 1646.57,256.25 1650.73,253.27 1654.94,250.44 1659.22,247.73 1663.59,245.08 1668.04,242.51 1672.57,240.02 1677.15,237.6 1681.79,235.27 1686.47,233.02 1691.18,230.86 1695.91,228.8 1700.66,226.83 1705.4,224.96 1710.2,223.15 1715.04,221.4 1719.93,219.73 1724.85,218.15 1729.79,216.66 1734.76,215.3 1739.73,214.06 1744.73,212.86 1749.75,211.62 1754.8,210.44 1759.88,209.41 1764.96,208.65 1770.06,208.24 1775.17,208.15 1780.3,208.1 1785.45,208.05 1790.6,208.02 1795.75,208 1800.9,208 1806.05,208.09 1811.22,208.3 1816.38,208.6 1821.51,208.97 1826.61,209.39 1831.66,209.86 1836.7,210.56 1841.74,211.51 1846.77,212.67 1851.79,214.01 1856.78,215.52 1861.75,217.16 1866.67,218.91 1871.55,220.74 1876.38,222.63 1881.15,224.55 1885.86,226.47 1890.5,228.42 1895.1,230.55 1899.66,232.86 1904.18,235.33 1908.66,237.93 1913.09,240.64 1917.47,243.45 1921.81,246.34 1926.11,249.28 1930.35,252.25 1934.54,255.23 1938.69,258.21 1942.81,261.25 1946.91,264.38 1950.98,267.58 1955,270.86 1958.96,274.22 1962.84,277.65 1966.63,281.14 1970.31,284.71 1973.88,288.33 1977.35,292.03 1980.76,295.82 1984.13,299.71 1987.45,303.67 1990.7,307.71 1993.89,311.81 1997.01,315.97 2000.04,320.19 2002.99,324.45 2005.85,328.74 2008.61,333.07 2011.27,337.41 2013.85,341.79 2016.41,346.22 2018.93,350.71 2021.4,355.26 2023.82,359.85 2026.17,364.49 2028.43,369.17 2030.59,373.88 2032.64,378.63 2034.57,383.4 2036.37,388.2 2038.02,393.02 2039.53,397.87 2040.97,402.8 2042.31,407.79 2043.55,412.81 2044.66,417.86 2045.64,422.91 2046.47,427.97 2047.18,433.05 2047.81,438.15 2048.4,443.27 2048.98,448.39 2049.6,453.5" fill="none" stroke="#1fe81f" stroke-width="1.7" stroke-linejoin="round"/>
<polyline points="1532.6,493 1532.69,488.91 1532.77,484.82 1532.86,480.73 1532.98,476.64 1533.16,472.55 1533.44,468.47 1533.78,464.39 1534.17,460.32 1534.6,456.25 1535.11,452.17 1535.71,448.12 1536.42,444.11 1537.34,440.15 1538.51,436.23 1539.81,432.33 1541.13,428.44 1542.39,424.54 1543.65,420.65 1544.93,416.76 1546.25,412.88 1547.61,409.02 1549.03,405.19 1550.52,401.39 1552.08,397.61 1553.7,393.84 1555.37,390.1 1557.09,386.38 1558.86,382.7 1560.68,379.04 1562.55,375.4 1564.46,371.77 1566.43,368.16 1568.46,364.59 1570.55,361.06 1572.69,357.57 1574.9,354.15 1577.17,350.79 1579.53,347.46 1581.96,344.16 1584.47,340.9 1587.03,337.67 1589.66,334.5 1592.34,331.39 1595.07,328.33 1597.84,325.34 1600.64,322.42 1603.5,319.51 1606.42,316.63 1609.39,313.77 1612.42,310.96 1615.5,308.19 1618.62,305.49 1621.79,302.86 1625.01,300.31 1628.27,297.85 1631.56,295.49 1634.9,293.24 1638.3,291.03 1641.77,288.86 1645.3,286.73 1648.89,284.66 1652.52,282.67 1656.2,280.76 1659.91,278.96 1663.65,277.27 1667.41,275.71 1671.18,274.3 1674.99,272.94 1678.84,271.57 1682.73,270.21 1686.65,268.89 1690.61,267.63 1694.58,266.43 1698.58,265.34 1702.6,264.35 1706.62,263.51 1710.65,262.82 1714.69,262.31 1718.71,261.99 1722.75,261.79 1726.82,261.59 1730.9,261.41 1735,261.24 1739.11,261.09 1743.22,260.96 1747.34,260.85 1751.45,260.75 1755.56,260.68 1759.65,260.63 1763.72,260.6 1767.77,260.62 1771.83,260.89 1775.9,261.41 1779.97,262.14 1784.01,263.03 1788.04,264.05 1792.02,265.14 1795.97,266.25 1799.85,267.36 1803.69,268.51 1807.52,269.8 1811.33,271.23 1815.11,272.77 1818.88,274.43 1822.62,276.19 1826.33,278.03 1830.01,279.95 1833.67,281.92 1837.29,283.95 1840.88,286.02 1844.43,288.11 1847.95,290.22 1851.42,292.34 1854.86,294.45 1858.3,296.64 1861.73,298.91 1865.14,301.26 1868.51,303.68 1871.83,306.17 1875.09,308.72 1878.28,311.34 1881.37,314.02 1884.36,316.75 1887.24,319.54 1890.03,322.4 1892.76,325.37 1895.44,328.43 1898.07,331.57 1900.64,334.79 1903.16,338.07 1905.62,341.41 1908.02,344.79 1910.37,348.21 1912.66,351.66 1914.89,355.12 1917.06,358.59 1919.18,362.06 1921.23,365.55 1923.24,369.1 1925.2,372.69 1927.11,376.32 1928.97,379.99 1930.77,383.69 1932.53,387.41 1934.23,391.15 1935.88,394.9 1937.47,398.66 1939.03,402.43 1940.54,406.23 1942.01,410.06 1943.42,413.91 1944.76,417.79 1946.01,421.68 1947.17,425.6 1948.21,429.54 1949.17,433.52 1950.08,437.51 1950.98,441.51 1951.9,445.5" fill="none" stroke="#2a6fe0" stroke-width="1.7" stroke-linejoin="round"/>
<g fill="#19e619">
<circle cx="1534.5" cy="452" r="3.6"/>
<circle cx="1536.5" cy="440" r="3.6"/>
<circle cx="1539.5" cy="426" r="3.6"/>
<circle cx="1544" cy="410" r="3.6"/>
<circle cx="1550" cy="393" r="3.6"/>
<circle cx="1558.4" cy="372.7" r="3.6"/>
<circle cx="1572.2" cy="346.2" r="3.6"/>
<circle cx="1591" cy="316.6" r="3.6"/>
<circle cx="1618.8" cy="284" r="3.6"/>
<circle cx="1655" cy="253" r="3.6"/>
<circle cx="1703.5" cy="228.4" r="3.6"/>
<circle cx="1756.4" cy="213" r="3.6"/>
<circle cx="1815.3" cy="208.8" r="3.6"/>
<circle cx="1869.4" cy="223.1" r="3.6"/>
<circle cx="1919.2" cy="245.1" r="3.6"/>
<circle cx="1958.9" cy="274.7" r="3.6"/>
<circle cx="1987.5" cy="305.2" r="3.6"/>
<circle cx="2007.3" cy="331.7" r="3.6"/>
<circle cx="2035.7" cy="383.3" r="3.6"/>
</g><g fill="#1010f0">
<circle cx="1532.9" cy="493" r="3.6"/>
<circle cx="1532.9" cy="491" r="3.6"/>
<circle cx="1532.9" cy="489" r="3.6"/>
<circle cx="1532.9" cy="487" r="3.6"/>
<circle cx="1532.9" cy="485" r="3.6"/>
<circle cx="1532.9" cy="483" r="3.6"/>
<circle cx="1532.9" cy="481" r="3.6"/>
<circle cx="1532.9" cy="478.5" r="3.6"/>
<circle cx="1533" cy="475" r="3.6"/>
<circle cx="1533.2" cy="468" r="3.6"/>
<circle cx="1534.6" cy="460.6" r="3.6"/>
<circle cx="1535.4" cy="452.7" r="3.6"/>
<circle cx="1537.5" cy="442.9" r="3.6"/>
<circle cx="1540.7" cy="431" r="3.6"/>
<circle cx="1545.9" cy="415.1" r="3.6"/>
<circle cx="1553.6" cy="397.9" r="3.6"/>
<circle cx="1564" cy="376.1" r="3.6"/>
<circle cx="1579.3" cy="351" r="3.6"/>
<circle cx="1601.6" cy="325.6" r="3.6"/>
<circle cx="1633.1" cy="301.7" r="3.6"/>
<circle cx="1670.1" cy="280" r="3.6"/>
<circle cx="1713.3" cy="266.8" r="3.6"/>
<circle cx="1761.8" cy="263.6" r="3.6"/>
<circle cx="1805.9" cy="273.7" r="3.6"/>
<circle cx="1845" cy="288.5" r="3.6"/>
<circle cx="1884.2" cy="313.7" r="3.6"/>
<circle cx="1900.6" cy="333.8" r="3.6"/>
<circle cx="1921.3" cy="362.6" r="3.6"/>
<circle cx="1932.4" cy="381.2" r="3.6"/>
</g>
<g fill="#fff" opacity="0.45">
<circle cx="1533.9" cy="451.4" r="1.3"/>
<circle cx="1535.9" cy="439.4" r="1.3"/>
<circle cx="1538.9" cy="425.4" r="1.3"/>
<circle cx="1543.4" cy="409.4" r="1.3"/>
<circle cx="1549.4" cy="392.4" r="1.3"/>
<circle cx="1557.8" cy="372.1" r="1.3"/>
<circle cx="1571.6" cy="345.6" r="1.3"/>
<circle cx="1590.4" cy="316" r="1.3"/>
<circle cx="1618.2" cy="283.4" r="1.3"/>
<circle cx="1654.4" cy="252.4" r="1.3"/>
<circle cx="1702.9" cy="227.8" r="1.3"/>
<circle cx="1755.8" cy="212.4" r="1.3"/>
<circle cx="1814.7" cy="208.2" r="1.3"/>
<circle cx="1868.8" cy="222.5" r="1.3"/>
<circle cx="1918.6" cy="244.5" r="1.3"/>
<circle cx="1958.3" cy="274.1" r="1.3"/>
<circle cx="1986.9" cy="304.6" r="1.3"/>
<circle cx="2006.7" cy="331.1" r="1.3"/>
<circle cx="2035.1" cy="382.7" r="1.3"/>
<circle cx="1532.6" cy="467.4" r="1.3"/>
<circle cx="1534" cy="460" r="1.3"/>
<circle cx="1534.8" cy="452.1" r="1.3"/>
<circle cx="1536.9" cy="442.3" r="1.3"/>
<circle cx="1540.1" cy="430.4" r="1.3"/>
<circle cx="1545.3" cy="414.5" r="1.3"/>
<circle cx="1553" cy="397.3" r="1.3"/>
<circle cx="1563.4" cy="375.5" r="1.3"/>
<circle cx="1578.7" cy="350.4" r="1.3"/>
<circle cx="1601" cy="325" r="1.3"/>
<circle cx="1632.5" cy="301.1" r="1.3"/>
<circle cx="1669.5" cy="279.4" r="1.3"/>
<circle cx="1712.7" cy="266.2" r="1.3"/>
<circle cx="1761.2" cy="263" r="1.3"/>
<circle cx="1805.3" cy="273.1" r="1.3"/>
<circle cx="1844.4" cy="287.9" r="1.3"/>
<circle cx="1883.6" cy="313.1" r="1.3"/>
<circle cx="1900" cy="333.2" r="1.3"/>
<circle cx="1920.7" cy="362" r="1.3"/>
<circle cx="1931.8" cy="380.6" r="1.3"/>
</g></g>
<circle cx="1540.9" cy="55.2" r="3.6" fill="#19e619"/><circle cx="1540.9" cy="86.7" r="3.6" fill="#1010f0"/>
<line x1="1842" y1="55.2" x2="1890.9" y2="55.2" stroke="#1fe81f" stroke-width="1.7"/>
<line x1="1842" y1="86.9" x2="1890.9" y2="86.9" stroke="#2a6fe0" stroke-width="1.7"/>
<text class="s" transform="translate(1570,60.9)" font-size="21.3" textLength="266" lengthAdjust="spacingAndGlyphs">WO<tspan dy="5.33" font-size="13.21">3</tspan><tspan dy="-5.33">/SnO</tspan><tspan dy="5.33" font-size="13.21">2</tspan><tspan dy="-5.33">/IAI</tspan> measurement</text>
<text class="s" transform="translate(1570,92.6)" font-size="21.3" textLength="214.6" lengthAdjust="spacingAndGlyphs">SnO<tspan dy="5.33" font-size="13.21">2</tspan><tspan dy="-5.33">/IAI</tspan> measurement</text>
<text class="s" transform="translate(1896.9,60.9)" font-size="21.3" textLength="197" lengthAdjust="spacingAndGlyphs">WO<tspan dy="5.33" font-size="13.21">3</tspan><tspan dy="-5.33">/SnO</tspan><tspan dy="5.33" font-size="13.21">2</tspan><tspan dy="-5.33">/IAI</tspan> fitting</text>
<text class="s" transform="translate(1896.9,92.6)" font-size="21.3" textLength="146.5" lengthAdjust="spacingAndGlyphs">SnO<tspan dy="5.33" font-size="13.21">2</tspan><tspan dy="-5.33">/IAI</tspan> fitting</text>
<g fill="none" stroke="#000" stroke-width="3.2" stroke-linejoin="miter">
<polyline points="1639.4,135.4 1678.9,135.4 1688.3,144 1704.6,126.9 1721.7,144 1738.9,126.9 1746.6,135.4 1804.3,135.4 1827.4,135.4 1837.7,144 1854.9,126.9 1872,144 1889.2,126.9 1896.9,135.4 1964.6,135.4"/>
<polyline points="1804.3,135.4 1804.3,185.2 1854.5,185.2"/>
<polyline points="1871.2,185.2 1920.9,185.2 1920.9,135.4"/>
<line x1="1854.5" y1="175.7" x2="1854.5" y2="194.6"/><line x1="1871.2" y1="175.7" x2="1871.2" y2="194.6"/>
</g>
<ellipse cx="1804.3" cy="135.4" rx="8.2" ry="9" fill="#000"/>
<text class="n" transform="translate(1712.3,119.1)" font-size="18.3" text-anchor="middle">Rs</text>
<text class="n" transform="translate(1863.4,119.1)" font-size="18.3" text-anchor="middle">Rrec</text>
<text class="n" transform="translate(1862.6,169.7)" font-size="18.3" text-anchor="middle">Crec</text>
<text class="s" transform="translate(251.4,591.7)" font-size="39">(d)</text>
<g stroke="#000" stroke-width="3.4">
<line x1="332.9" y1="1039.75" x2="338.4" y2="1039.75" stroke-width="2.6"/>
<line x1="332.9" y1="994.2" x2="342.4" y2="994.2"/>
<line x1="332.9" y1="948.65" x2="338.4" y2="948.65" stroke-width="2.6"/>
<line x1="332.9" y1="903.1" x2="342.4" y2="903.1"/>
<line x1="332.9" y1="857.55" x2="338.4" y2="857.55" stroke-width="2.6"/>
<line x1="332.9" y1="812" x2="342.4" y2="812"/>
<line x1="332.9" y1="766.45" x2="338.4" y2="766.45" stroke-width="2.6"/>
<line x1="332.9" y1="720.9" x2="342.4" y2="720.9"/>
<line x1="332.9" y1="675.35" x2="338.4" y2="675.35" stroke-width="2.6"/>
<line x1="332.9" y1="1085.3" x2="332.9" y2="1094.1"/>
<line x1="388.87" y1="1085.3" x2="388.87" y2="1089.9" stroke-width="2.6"/>
<line x1="444.84" y1="1085.3" x2="444.84" y2="1094.1"/>
<line x1="500.81" y1="1085.3" x2="500.81" y2="1089.9" stroke-width="2.6"/>
<line x1="556.78" y1="1085.3" x2="556.78" y2="1094.1"/>
<line x1="612.75" y1="1085.3" x2="612.75" y2="1089.9" stroke-width="2.6"/>
<line x1="668.72" y1="1085.3" x2="668.72" y2="1094.1"/>
<line x1="724.69" y1="1085.3" x2="724.69" y2="1089.9" stroke-width="2.6"/>
<line x1="780.66" y1="1085.3" x2="780.66" y2="1094.1"/>
<line x1="836.63" y1="1085.3" x2="836.63" y2="1089.9" stroke-width="2.6"/>
<line x1="892.6" y1="1085.3" x2="892.6" y2="1094.1"/>
<line x1="893.3" y1="1034.7" x2="888.3" y2="1034.7" stroke-width="2.6"/>
<line x1="893.3" y1="984.1" x2="884.8" y2="984.1"/>
<line x1="893.3" y1="933.5" x2="888.3" y2="933.5" stroke-width="2.6"/>
<line x1="893.3" y1="882.9" x2="884.8" y2="882.9"/>
<line x1="893.3" y1="832.3" x2="888.3" y2="832.3" stroke-width="2.6"/>
<line x1="893.3" y1="781.7" x2="884.8" y2="781.7"/>
<line x1="893.3" y1="731.1" x2="888.3" y2="731.1" stroke-width="2.6"/>
<line x1="893.3" y1="680.5" x2="884.8" y2="680.5"/>
</g>
<text class="s" transform="translate(322.8,1092.9)" font-size="26.5" text-anchor="end" letter-spacing="1">0</text>
<text class="s" transform="translate(322.8,1001.8)" font-size="26.5" text-anchor="end" letter-spacing="1">20</text>
<text class="s" transform="translate(322.8,910.7)" font-size="26.5" text-anchor="end" letter-spacing="1">40</text>
<text class="s" transform="translate(322.8,819.6)" font-size="26.5" text-anchor="end" letter-spacing="1">60</text>
<text class="s" transform="translate(322.8,728.5)" font-size="26.5" text-anchor="end" letter-spacing="1">80</text>
<text class="s" transform="translate(322.8,637.4)" font-size="26.5" text-anchor="end" letter-spacing="1">100</text>
<text class="s" transform="translate(333.5,1122.4)" font-size="26.5" text-anchor="middle" letter-spacing="1.2">300</text>
<text class="s" transform="translate(445.44,1122.4)" font-size="26.5" text-anchor="middle" letter-spacing="1.2">400</text>
<text class="s" transform="translate(557.38,1122.4)" font-size="26.5" text-anchor="middle" letter-spacing="1.2">500</text>
<text class="s" transform="translate(669.32,1122.4)" font-size="26.5" text-anchor="middle" letter-spacing="1.2">600</text>
<text class="s" transform="translate(781.26,1122.4)" font-size="26.5" text-anchor="middle" letter-spacing="1.2">700</text>
<text class="s" transform="translate(893.2,1122.4)" font-size="26.5" text-anchor="middle" letter-spacing="1.2">800</text>
<text class="s" transform="translate(902.3,1093.3)" font-size="26.5" letter-spacing="1">0</text>
<text class="s" transform="translate(902.3,992.1)" font-size="26.5" letter-spacing="1">5</text>
<text class="s" transform="translate(902.3,890.9)" font-size="26.5" letter-spacing="1">10</text>
<text class="s" transform="translate(902.3,789.7)" font-size="26.5" letter-spacing="1">15</text>
<text class="s" transform="translate(902.3,688.5)" font-size="26.5" letter-spacing="1">20</text>
<text class="s" transform="translate(613,1159.6) scale(0.95,1)" font-size="40.5" text-anchor="middle" textLength="316.84" lengthAdjust="spacing">Wavelength (nm)</text>
<text class="s" transform="translate(277.8,858.5) rotate(-90)" font-size="40" text-anchor="middle">EQE (%)</text>
<text class="s" transform="translate(967,855.3) rotate(-90)" font-size="38" text-anchor="middle" textLength="414" lengthAdjust="spacingAndGlyphs">Integrated J<tspan dy="-11.4" font-size="23.56">sc</tspan><tspan dy="11.4"> (mA cm</tspan><tspan dy="-12.54" font-size="28.88">-2</tspan><tspan dy="12.54">)</tspan></text>
<clipPath id="clipd"><rect x="332.9" y="629.8" width="560.4" height="457.5"/></clipPath>
<g clip-path="url(#clipd)">
<polyline points="332.9,1085.3 344.09,1035.19 355.29,973.7 366.48,905.38 377.68,847.07 388.87,806.08 400.06,771 411.26,742.31 422.45,740.94 433.65,730.01 444.84,722.72 456.03,719.99 467.23,718.17 478.42,717.26 489.62,717.26 500.81,718.62 512,720.44 523.2,719.99 534.39,718.62 545.59,716.35 556.78,713.61 567.97,711.79 579.17,709.97 590.36,707.69 601.56,706.32 612.75,704.96 623.94,703.59 635.14,704.96 646.33,707.23 657.53,709.51 668.72,711.79 679.91,714.07 691.11,714.98 702.3,714.07 713.5,711.79 724.69,710.42 735.88,709.51 747.08,708.15 758.27,707.23 769.47,707.23 780.66,709.51 791.85,714.07 803.05,718.62 814.24,725.45 825.44,757.34 836.63,850.72 847.82,982.81 859.02,1053.41 870.21,1076.19 881.41,1085.3" fill="none" stroke="#fa0505" stroke-width="1.6" stroke-linejoin="round"/>
<g fill="#fa0505">
<circle cx="332.9" cy="1085.3" r="5.2"/>
<circle cx="344.09" cy="1035.19" r="5.2"/>
<circle cx="355.29" cy="973.7" r="5.2"/>
<circle cx="366.48" cy="905.38" r="5.2"/>
<circle cx="377.68" cy="847.07" r="5.2"/>
<circle cx="388.87" cy="806.08" r="5.2"/>
<circle cx="400.06" cy="771" r="5.2"/>
<circle cx="411.26" cy="742.31" r="5.2"/>
<circle cx="422.45" cy="740.94" r="5.2"/>
<circle cx="433.65" cy="730.01" r="5.2"/>
<circle cx="444.84" cy="722.72" r="5.2"/>
<circle cx="456.03" cy="719.99" r="5.2"/>
<circle cx="467.23" cy="718.17" r="5.2"/>
<circle cx="478.42" cy="717.26" r="5.2"/>
<circle cx="489.62" cy="717.26" r="5.2"/>
<circle cx="500.81" cy="718.62" r="5.2"/>
<circle cx="512" cy="720.44" r="5.2"/>
<circle cx="523.2" cy="719.99" r="5.2"/>
<circle cx="534.39" cy="718.62" r="5.2"/>
<circle cx="545.59" cy="716.35" r="5.2"/>
<circle cx="556.78" cy="713.61" r="5.2"/>
<circle cx="567.97" cy="711.79" r="5.2"/>
<circle cx="579.17" cy="709.97" r="5.2"/>
<circle cx="590.36" cy="707.69" r="5.2"/>
<circle cx="601.56" cy="706.32" r="5.2"/>
<circle cx="612.75" cy="704.96" r="5.2"/>
<circle cx="623.94" cy="703.59" r="5.2"/>
<circle cx="635.14" cy="704.96" r="5.2"/>
<circle cx="646.33" cy="707.23" r="5.2"/>
<circle cx="657.53" cy="709.51" r="5.2"/>
<circle cx="668.72" cy="711.79" r="5.2"/>
<circle cx="679.91" cy="714.07" r="5.2"/>
<circle cx="691.11" cy="714.98" r="5.2"/>
<circle cx="702.3" cy="714.07" r="5.2"/>
<circle cx="713.5" cy="711.79" r="5.2"/>
<circle cx="724.69" cy="710.42" r="5.2"/>
<circle cx="735.88" cy="709.51" r="5.2"/>
<circle cx="747.08" cy="708.15" r="5.2"/>
<circle cx="758.27" cy="707.23" r="5.2"/>
<circle cx="769.47" cy="707.23" r="5.2"/>
<circle cx="780.66" cy="709.51" r="5.2"/>
<circle cx="791.85" cy="714.07" r="5.2"/>
<circle cx="803.05" cy="718.62" r="5.2"/>
<circle cx="814.24" cy="725.45" r="5.2"/>
<circle cx="825.44" cy="757.34" r="5.2"/>
<circle cx="836.63" cy="850.72" r="5.2"/>
<circle cx="847.82" cy="982.81" r="5.2"/>
<circle cx="859.02" cy="1053.41" r="5.2"/>
<circle cx="870.21" cy="1076.19" r="5.2"/>
<circle cx="881.41" cy="1085.3" r="5.2"/>
</g><g fill="#ff8a8a">
<circle cx="332.4" cy="1084.6" r="2.1"/>
<circle cx="343.59" cy="1034.49" r="2.1"/>
<circle cx="354.79" cy="973" r="2.1"/>
<circle cx="365.98" cy="904.68" r="2.1"/>
<circle cx="377.18" cy="846.37" r="2.1"/>
<circle cx="388.37" cy="805.38" r="2.1"/>
<circle cx="399.56" cy="770.3" r="2.1"/>
<circle cx="410.76" cy="741.61" r="2.1"/>
<circle cx="421.95" cy="740.24" r="2.1"/>
<circle cx="433.15" cy="729.31" r="2.1"/>
<circle cx="444.34" cy="722.02" r="2.1"/>
<circle cx="455.53" cy="719.29" r="2.1"/>
<circle cx="466.73" cy="717.47" r="2.1"/>
<circle cx="477.92" cy="716.56" r="2.1"/>
<circle cx="489.12" cy="716.56" r="2.1"/>
<circle cx="500.31" cy="717.92" r="2.1"/>
<circle cx="511.5" cy="719.74" r="2.1"/>
<circle cx="522.7" cy="719.29" r="2.1"/>
<circle cx="533.89" cy="717.92" r="2.1"/>
<circle cx="545.09" cy="715.64" r="2.1"/>
<circle cx="556.28" cy="712.91" r="2.1"/>
<circle cx="567.47" cy="711.09" r="2.1"/>
<circle cx="578.67" cy="709.27" r="2.1"/>
<circle cx="589.86" cy="706.99" r="2.1"/>
<circle cx="601.06" cy="705.62" r="2.1"/>
<circle cx="612.25" cy="704.26" r="2.1"/>
<circle cx="623.44" cy="702.89" r="2.1"/>
<circle cx="634.64" cy="704.26" r="2.1"/>
<circle cx="645.83" cy="706.53" r="2.1"/>
<circle cx="657.03" cy="708.81" r="2.1"/>
<circle cx="668.22" cy="711.09" r="2.1"/>
<circle cx="679.41" cy="713.37" r="2.1"/>
<circle cx="690.61" cy="714.28" r="2.1"/>
<circle cx="701.8" cy="713.37" r="2.1"/>
<circle cx="713" cy="711.09" r="2.1"/>
<circle cx="724.19" cy="709.72" r="2.1"/>
<circle cx="735.38" cy="708.81" r="2.1"/>
<circle cx="746.58" cy="707.45" r="2.1"/>
<circle cx="757.77" cy="706.53" r="2.1"/>
<circle cx="768.97" cy="706.53" r="2.1"/>
<circle cx="780.16" cy="708.81" r="2.1"/>
<circle cx="791.35" cy="713.37" r="2.1"/>
<circle cx="802.55" cy="717.92" r="2.1"/>
<circle cx="813.74" cy="724.75" r="2.1"/>
<circle cx="824.94" cy="756.64" r="2.1"/>
<circle cx="836.13" cy="850.02" r="2.1"/>
<circle cx="847.32" cy="982.11" r="2.1"/>
<circle cx="858.52" cy="1052.71" r="2.1"/>
<circle cx="869.71" cy="1075.49" r="2.1"/>
<circle cx="880.91" cy="1084.6" r="2.1"/>
</g>
<polyline points="332.9,1085.3 344.09,1035.19 355.29,973.7 366.48,905.38 377.68,848.44 388.87,807.44 400.06,771 411.26,742.31 422.45,741.4 433.65,732.29 444.84,725.45 456.03,720.9 467.23,718.62 478.42,717.26 489.62,717.26 500.81,718.62 512,719.99 523.2,719.53 534.39,718.62 545.59,716.35 556.78,714.07 567.97,711.79 579.17,709.51 590.36,707.23 601.56,704.96 612.75,701.77 623.94,699.95 635.14,698.12 646.33,696.76 657.53,697.21 668.72,699.04 679.91,702.68 691.11,707.23 702.3,709.51 713.5,710.42 724.69,709.51 735.88,707.23 747.08,703.59 758.27,700.4 769.47,697.21 780.66,695.85 791.85,696.76 803.05,700.4 814.24,714.07 825.44,730.01 836.63,818.83 847.82,964.59 859.02,1048.86 870.21,1076.19 881.41,1085.3" fill="none" stroke="#0505fa" stroke-width="1.6" stroke-linejoin="round"/>
<g fill="#0505fa">
<circle cx="332.9" cy="1085.3" r="5.2"/>
<circle cx="344.09" cy="1035.19" r="5.2"/>
<circle cx="355.29" cy="973.7" r="5.2"/>
<circle cx="366.48" cy="905.38" r="5.2"/>
<circle cx="377.68" cy="848.44" r="5.2"/>
<circle cx="388.87" cy="807.44" r="5.2"/>
<circle cx="400.06" cy="771" r="5.2"/>
<circle cx="411.26" cy="742.31" r="5.2"/>
<circle cx="422.45" cy="741.4" r="5.2"/>
<circle cx="433.65" cy="732.29" r="5.2"/>
<circle cx="444.84" cy="725.45" r="5.2"/>
<circle cx="456.03" cy="720.9" r="5.2"/>
<circle cx="467.23" cy="718.62" r="5.2"/>
<circle cx="478.42" cy="717.26" r="5.2"/>
<circle cx="489.62" cy="717.26" r="5.2"/>
<circle cx="500.81" cy="718.62" r="5.2"/>
<circle cx="512" cy="719.99" r="5.2"/>
<circle cx="523.2" cy="719.53" r="5.2"/>
<circle cx="534.39" cy="718.62" r="5.2"/>
<circle cx="545.59" cy="716.35" r="5.2"/>
<circle cx="556.78" cy="714.07" r="5.2"/>
<circle cx="567.97" cy="711.79" r="5.2"/>
<circle cx="579.17" cy="709.51" r="5.2"/>
<circle cx="590.36" cy="707.23" r="5.2"/>
<circle cx="601.56" cy="704.96" r="5.2"/>
<circle cx="612.75" cy="701.77" r="5.2"/>
<circle cx="623.94" cy="699.95" r="5.2"/>
<circle cx="635.14" cy="698.12" r="5.2"/>
<circle cx="646.33" cy="696.76" r="5.2"/>
<circle cx="657.53" cy="697.21" r="5.2"/>
<circle cx="668.72" cy="699.04" r="5.2"/>
<circle cx="679.91" cy="702.68" r="5.2"/>
<circle cx="691.11" cy="707.23" r="5.2"/>
<circle cx="702.3" cy="709.51" r="5.2"/>
<circle cx="713.5" cy="710.42" r="5.2"/>
<circle cx="724.69" cy="709.51" r="5.2"/>
<circle cx="735.88" cy="707.23" r="5.2"/>
<circle cx="747.08" cy="703.59" r="5.2"/>
<circle cx="758.27" cy="700.4" r="5.2"/>
<circle cx="769.47" cy="697.21" r="5.2"/>
<circle cx="780.66" cy="695.85" r="5.2"/>
<circle cx="791.85" cy="696.76" r="5.2"/>
<circle cx="803.05" cy="700.4" r="5.2"/>
<circle cx="814.24" cy="714.07" r="5.2"/>
<circle cx="825.44" cy="730.01" r="5.2"/>
<circle cx="836.63" cy="818.83" r="5.2"/>
<circle cx="847.82" cy="964.59" r="5.2"/>
<circle cx="859.02" cy="1048.86" r="5.2"/>
<circle cx="870.21" cy="1076.19" r="5.2"/>
<circle cx="881.41" cy="1085.3" r="5.2"/>
</g><g fill="#8a8aff">
<circle cx="332.4" cy="1084.6" r="2.1"/>
<circle cx="343.59" cy="1034.49" r="2.1"/>
<circle cx="354.79" cy="973" r="2.1"/>
<circle cx="365.98" cy="904.68" r="2.1"/>
<circle cx="377.18" cy="847.74" r="2.1"/>
<circle cx="388.37" cy="806.74" r="2.1"/>
<circle cx="399.56" cy="770.3" r="2.1"/>
<circle cx="410.76" cy="741.61" r="2.1"/>
<circle cx="421.95" cy="740.7" r="2.1"/>
<circle cx="433.15" cy="731.59" r="2.1"/>
<circle cx="444.34" cy="724.75" r="2.1"/>
<circle cx="455.53" cy="720.2" r="2.1"/>
<circle cx="466.73" cy="717.92" r="2.1"/>
<circle cx="477.92" cy="716.56" r="2.1"/>
<circle cx="489.12" cy="716.56" r="2.1"/>
<circle cx="500.31" cy="717.92" r="2.1"/>
<circle cx="511.5" cy="719.29" r="2.1"/>
<circle cx="522.7" cy="718.83" r="2.1"/>
<circle cx="533.89" cy="717.92" r="2.1"/>
<circle cx="545.09" cy="715.64" r="2.1"/>
<circle cx="556.28" cy="713.37" r="2.1"/>
<circle cx="567.47" cy="711.09" r="2.1"/>
<circle cx="578.67" cy="708.81" r="2.1"/>
<circle cx="589.86" cy="706.53" r="2.1"/>
<circle cx="601.06" cy="704.26" r="2.1"/>
<circle cx="612.25" cy="701.07" r="2.1"/>
<circle cx="623.44" cy="699.25" r="2.1"/>
<circle cx="634.64" cy="697.42" r="2.1"/>
<circle cx="645.83" cy="696.06" r="2.1"/>
<circle cx="657.03" cy="696.51" r="2.1"/>
<circle cx="668.22" cy="698.34" r="2.1"/>
<circle cx="679.41" cy="701.98" r="2.1"/>
<circle cx="690.61" cy="706.53" r="2.1"/>
<circle cx="701.8" cy="708.81" r="2.1"/>
<circle cx="713" cy="709.72" r="2.1"/>
<circle cx="724.19" cy="708.81" r="2.1"/>
<circle cx="735.38" cy="706.53" r="2.1"/>
<circle cx="746.58" cy="702.89" r="2.1"/>
<circle cx="757.77" cy="699.7" r="2.1"/>
<circle cx="768.97" cy="696.51" r="2.1"/>
<circle cx="780.16" cy="695.15" r="2.1"/>
<circle cx="791.35" cy="696.06" r="2.1"/>
<circle cx="802.55" cy="699.7" r="2.1"/>
<circle cx="813.74" cy="713.37" r="2.1"/>
<circle cx="824.94" cy="729.31" r="2.1"/>
<circle cx="836.13" cy="818.13" r="2.1"/>
<circle cx="847.32" cy="963.89" r="2.1"/>
<circle cx="858.52" cy="1048.16" r="2.1"/>
<circle cx="869.71" cy="1075.49" r="2.1"/>
<circle cx="880.91" cy="1084.6" r="2.1"/>
</g>
<polyline points="332.9,1085.3 344.09,1035.19 355.29,985.09 366.48,925.88 377.68,871.21 388.87,825.66 400.06,789.22 411.26,757.34 422.45,748.23 433.65,736.84 444.84,727.73 456.03,718.62 467.23,711.79 478.42,708.15 489.62,706.32 500.81,707.23 512,708.15 523.2,706.32 534.39,703.59 545.59,700.4 556.78,698.12 567.97,694.48 579.17,692.2 590.36,689.93 601.56,686.74 612.75,684.46 623.94,683.09 635.14,683.55 646.33,684.46 657.53,685.83 668.72,686.74 679.91,686.74 691.11,685.37 702.3,682.18 713.5,678.54 724.69,675.35 735.88,673.98 747.08,673.98 758.27,676.26 769.47,678.99 780.66,684.46 791.85,689.93 803.05,693.57 814.24,702.68 825.44,745.95 836.63,859.83 847.82,991.92 859.02,1057.97 870.21,1077.1 881.41,1085.3" fill="none" stroke="#05f505" stroke-width="1.6" stroke-linejoin="round"/>
<g fill="#05f505">
<circle cx="332.9" cy="1085.3" r="5.2"/>
<circle cx="344.09" cy="1035.19" r="5.2"/>
<circle cx="355.29" cy="985.09" r="5.2"/>
<circle cx="366.48" cy="925.88" r="5.2"/>
<circle cx="377.68" cy="871.21" r="5.2"/>
<circle cx="388.87" cy="825.66" r="5.2"/>
<circle cx="400.06" cy="789.22" r="5.2"/>
<circle cx="411.26" cy="757.34" r="5.2"/>
<circle cx="422.45" cy="748.23" r="5.2"/>
<circle cx="433.65" cy="736.84" r="5.2"/>
<circle cx="444.84" cy="727.73" r="5.2"/>
<circle cx="456.03" cy="718.62" r="5.2"/>
<circle cx="467.23" cy="711.79" r="5.2"/>
<circle cx="478.42" cy="708.15" r="5.2"/>
<circle cx="489.62" cy="706.32" r="5.2"/>
<circle cx="500.81" cy="707.23" r="5.2"/>
<circle cx="512" cy="708.15" r="5.2"/>
<circle cx="523.2" cy="706.32" r="5.2"/>
<circle cx="534.39" cy="703.59" r="5.2"/>
<circle cx="545.59" cy="700.4" r="5.2"/>
<circle cx="556.78" cy="698.12" r="5.2"/>
<circle cx="567.97" cy="694.48" r="5.2"/>
<circle cx="579.17" cy="692.2" r="5.2"/>
<circle cx="590.36" cy="689.93" r="5.2"/>
<circle cx="601.56" cy="686.74" r="5.2"/>
<circle cx="612.75" cy="684.46" r="5.2"/>
<circle cx="623.94" cy="683.09" r="5.2"/>
<circle cx="635.14" cy="683.55" r="5.2"/>
<circle cx="646.33" cy="684.46" r="5.2"/>
<circle cx="657.53" cy="685.83" r="5.2"/>
<circle cx="668.72" cy="686.74" r="5.2"/>
<circle cx="679.91" cy="686.74" r="5.2"/>
<circle cx="691.11" cy="685.37" r="5.2"/>
<circle cx="702.3" cy="682.18" r="5.2"/>
<circle cx="713.5" cy="678.54" r="5.2"/>
<circle cx="724.69" cy="675.35" r="5.2"/>
<circle cx="735.88" cy="673.98" r="5.2"/>
<circle cx="747.08" cy="673.98" r="5.2"/>
<circle cx="758.27" cy="676.26" r="5.2"/>
<circle cx="769.47" cy="678.99" r="5.2"/>
<circle cx="780.66" cy="684.46" r="5.2"/>
<circle cx="791.85" cy="689.93" r="5.2"/>
<circle cx="803.05" cy="693.57" r="5.2"/>
<circle cx="814.24" cy="702.68" r="5.2"/>
<circle cx="825.44" cy="745.95" r="5.2"/>
<circle cx="836.63" cy="859.83" r="5.2"/>
<circle cx="847.82" cy="991.92" r="5.2"/>
<circle cx="859.02" cy="1057.97" r="5.2"/>
<circle cx="870.21" cy="1077.1" r="5.2"/>
<circle cx="881.41" cy="1085.3" r="5.2"/>
</g><g fill="#9cff9c">
<circle cx="332.4" cy="1084.6" r="2.1"/>
<circle cx="343.59" cy="1034.49" r="2.1"/>
<circle cx="354.79" cy="984.39" r="2.1"/>
<circle cx="365.98" cy="925.17" r="2.1"/>
<circle cx="377.18" cy="870.51" r="2.1"/>
<circle cx="388.37" cy="824.96" r="2.1"/>
<circle cx="399.56" cy="788.52" r="2.1"/>
<circle cx="410.76" cy="756.64" r="2.1"/>
<circle cx="421.95" cy="747.53" r="2.1"/>
<circle cx="433.15" cy="736.14" r="2.1"/>
<circle cx="444.34" cy="727.03" r="2.1"/>
<circle cx="455.53" cy="717.92" r="2.1"/>
<circle cx="466.73" cy="711.09" r="2.1"/>
<circle cx="477.92" cy="707.45" r="2.1"/>
<circle cx="489.12" cy="705.62" r="2.1"/>
<circle cx="500.31" cy="706.53" r="2.1"/>
<circle cx="511.5" cy="707.45" r="2.1"/>
<circle cx="522.7" cy="705.62" r="2.1"/>
<circle cx="533.89" cy="702.89" r="2.1"/>
<circle cx="545.09" cy="699.7" r="2.1"/>
<circle cx="556.28" cy="697.42" r="2.1"/>
<circle cx="567.47" cy="693.78" r="2.1"/>
<circle cx="578.67" cy="691.5" r="2.1"/>
<circle cx="589.86" cy="689.23" r="2.1"/>
<circle cx="601.06" cy="686.04" r="2.1"/>
<circle cx="612.25" cy="683.76" r="2.1"/>
<circle cx="623.44" cy="682.39" r="2.1"/>
<circle cx="634.64" cy="682.85" r="2.1"/>
<circle cx="645.83" cy="683.76" r="2.1"/>
<circle cx="657.03" cy="685.13" r="2.1"/>
<circle cx="668.22" cy="686.04" r="2.1"/>
<circle cx="679.41" cy="686.04" r="2.1"/>
<circle cx="690.61" cy="684.67" r="2.1"/>
<circle cx="701.8" cy="681.48" r="2.1"/>
<circle cx="713" cy="677.84" r="2.1"/>
<circle cx="724.19" cy="674.65" r="2.1"/>
<circle cx="735.38" cy="673.28" r="2.1"/>
<circle cx="746.58" cy="673.28" r="2.1"/>
<circle cx="757.77" cy="675.56" r="2.1"/>
<circle cx="768.97" cy="678.29" r="2.1"/>
<circle cx="780.16" cy="683.76" r="2.1"/>
<circle cx="791.35" cy="689.23" r="2.1"/>
<circle cx="802.55" cy="692.87" r="2.1"/>
<circle cx="813.74" cy="701.98" r="2.1"/>
<circle cx="824.94" cy="745.25" r="2.1"/>
<circle cx="836.13" cy="859.13" r="2.1"/>
<circle cx="847.32" cy="991.22" r="2.1"/>
<circle cx="858.52" cy="1057.27" r="2.1"/>
<circle cx="869.71" cy="1076.4" r="2.1"/>
<circle cx="880.91" cy="1084.6" r="2.1"/>
</g>
<polyline points="372.08,1085.3 375.35,1085.15 378.63,1085.01 381.9,1084.87 385.17,1084.7 388.45,1084.48 391.72,1084.17 395,1083.76 398.27,1083.25 401.54,1082.66 404.82,1082 408.09,1081.31 411.36,1080.59 414.64,1079.81 417.91,1078.95 421.18,1078 424.46,1076.98 427.73,1075.9 431.01,1074.76 434.28,1073.56 437.55,1072.31 440.83,1071.02 444.1,1069.69 447.37,1068.31 450.65,1066.79 453.92,1065.17 457.2,1063.46 460.47,1061.68 463.74,1059.84 467.02,1057.98 470.29,1056.09 473.56,1054.15 476.84,1052.16 480.11,1050.12 483.39,1048.03 486.66,1045.88 489.93,1043.67 493.21,1041.41 496.48,1039.09 499.75,1036.7 503.03,1034.27 506.3,1031.77 509.58,1029.19 512.85,1026.52 516.12,1023.79 519.4,1020.99 522.67,1018.13 525.94,1015.21 529.22,1012.25 532.49,1009.25 535.76,1006.21 539.04,1003.14 542.31,1000.02 545.59,996.77 548.86,993.42 552.13,990.01 555.41,986.59 558.68,983.18 561.95,979.83 565.23,976.48 568.5,973.12 571.78,969.77 575.05,966.42 578.32,963.06 581.6,959.7 584.87,956.34 588.14,952.98 591.42,949.61 594.69,946.24 597.97,942.87 601.24,939.49 604.51,936.15 607.79,932.81 611.06,929.46 614.33,926.11 617.61,922.76 620.88,919.4 624.16,916.04 627.43,912.68 630.7,909.32 633.98,905.96 637.25,902.59 640.52,899.23 643.8,895.86 647.07,892.5 650.34,889.14 653.62,885.79 656.89,882.43 660.17,879.06 663.44,875.69 666.71,872.29 669.99,868.88 673.26,865.47 676.53,862.06 679.81,858.64 683.08,855.21 686.36,851.76 689.63,848.29 692.9,844.78 696.18,841.23 699.45,837.63 702.72,834.23 706,830.83 709.27,827.39 712.55,823.91 715.82,820.4 719.09,816.86 722.37,813.29 725.64,809.7 728.91,806.1 732.19,802.48 735.46,798.82 738.74,795.13 742.01,791.41 745.28,787.66 748.56,783.91 751.83,780.14 755.1,776.37 758.38,772.49 761.65,768.41 764.93,764.29 768.2,760.17 771.47,756.05 774.75,751.95 778.02,747.91 781.29,743.92 784.57,739.94 787.84,735.95 791.11,732 794.39,728.1 797.66,724.31 800.94,720.63 804.21,717.12 807.48,713.65 810.76,710.24 814.03,707.02 817.3,704.08 820.58,701.55 823.85,699.33 827.13,697.33 830.4,695.51 833.67,693.84 836.95,692.26 840.22,690.87 843.49,689.78 846.77,688.77 850.04,688.39 853.32,688.39 856.59,688.39 859.86,688.39 863.14,688.39 866.41,688.39 869.68,688.39 872.96,688.39 876.23,688.39 879.51,688.39 882.78,688.39 886.05,688.39 889.33,688.39 892.6,688.39" fill="none" stroke="#fa0505" stroke-width="4.2" stroke-linejoin="round"/>
<polyline points="372.08,1085.3 375.35,1085.14 378.63,1085 381.9,1084.85 385.17,1084.68 388.45,1084.45 391.72,1084.14 395,1083.72 398.27,1083.2 401.54,1082.61 404.82,1081.95 408.09,1081.25 411.36,1080.52 414.64,1079.74 417.91,1078.87 421.18,1077.92 424.46,1076.9 427.73,1075.81 431.01,1074.66 434.28,1073.46 437.55,1072.2 440.83,1070.91 444.1,1069.58 447.37,1068.19 450.65,1066.67 453.92,1065.04 457.2,1063.32 460.47,1061.54 463.74,1059.7 467.02,1057.83 470.29,1055.94 473.56,1053.99 476.84,1052 480.11,1049.95 483.39,1047.85 486.66,1045.7 489.93,1043.49 493.21,1041.22 496.48,1038.89 499.75,1036.5 503.03,1034.06 506.3,1031.55 509.58,1028.95 512.85,1026.27 516.12,1023.52 519.4,1020.71 522.67,1017.83 525.94,1014.91 529.22,1011.93 532.49,1008.92 535.76,1005.87 539.04,1002.79 542.31,999.65 545.59,996.39 548.86,993.02 552.13,989.6 555.41,986.17 558.68,982.75 561.95,979.38 565.23,976.01 568.5,972.65 571.78,969.28 575.05,965.92 578.32,962.55 581.6,959.18 584.87,955.8 588.14,952.43 591.42,949.05 594.69,945.66 597.97,942.28 601.24,938.89 604.51,935.53 607.79,932.16 611.06,928.8 614.33,925.43 617.61,922.05 620.88,918.68 624.16,915.3 627.43,911.92 630.7,908.53 633.98,905.15 637.25,901.77 640.52,898.38 643.8,895 647.07,891.61 650.34,888.23 653.62,884.86 656.89,881.48 660.17,878.1 663.44,874.7 666.71,871.29 669.99,867.85 673.26,864.42 676.53,860.99 679.81,857.55 683.08,854.1 686.36,850.63 689.63,847.14 692.9,843.61 696.18,840.04 699.45,836.42 702.72,832.96 706,829.49 709.27,825.98 712.55,822.43 715.82,818.85 719.09,815.24 722.37,811.6 725.64,807.94 728.91,804.27 732.19,800.58 735.46,796.85 738.74,793.09 742.01,789.3 745.28,785.49 748.56,781.66 751.83,777.82 755.1,773.98 758.38,770.01 761.65,765.78 764.93,761.52 768.2,757.25 771.47,752.99 774.75,748.75 778.02,744.56 781.29,740.42 784.57,736.3 787.84,732.17 791.11,728.07 794.39,724.03 797.66,720.09 800.94,716.28 804.21,712.59 807.48,708.89 810.76,705.26 814.03,701.81 817.3,698.65 820.58,695.89 823.85,693.44 827.13,691.22 830.4,689.17 833.67,687.28 836.95,685.47 840.22,683.85 843.49,682.54 846.77,681.31 850.04,680.7 853.32,680.7 856.59,680.7 859.86,680.7 863.14,680.7 866.41,680.7 869.68,680.7 872.96,680.7 876.23,680.7 879.51,680.7 882.78,680.7 886.05,680.7 889.33,680.7 892.6,680.7" fill="none" stroke="#0505fa" stroke-width="4.2" stroke-linejoin="round"/>
<polyline points="372.08,1085.3 375.35,1085.12 378.63,1084.95 381.9,1084.77 385.17,1084.57 388.45,1084.32 391.72,1083.99 395,1083.54 398.27,1083 401.54,1082.38 404.82,1081.69 408.09,1080.97 411.36,1080.22 414.64,1079.41 417.91,1078.51 421.18,1077.54 424.46,1076.49 427.73,1075.38 431.01,1074.2 434.28,1072.97 437.55,1071.69 440.83,1070.37 444.1,1069.01 447.37,1067.59 450.65,1066.05 453.92,1064.4 457.2,1062.65 460.47,1060.84 463.74,1058.98 467.02,1057.09 470.29,1055.16 473.56,1053.19 476.84,1051.17 480.11,1049.1 483.39,1046.98 486.66,1044.8 489.93,1042.56 493.21,1040.27 496.48,1037.91 499.75,1035.49 503.03,1033 506.3,1030.43 509.58,1027.76 512.85,1025.02 516.12,1022.21 519.4,1019.32 522.67,1016.38 525.94,1013.39 529.22,1010.35 532.49,1007.27 535.76,1004.15 539.04,1001.01 542.31,997.81 545.59,994.48 548.86,991.05 552.13,987.56 555.41,984.06 558.68,980.57 561.95,977.14 565.23,973.71 568.5,970.28 571.78,966.85 575.05,963.41 578.32,959.98 581.6,956.54 584.87,953.1 588.14,949.66 591.42,946.21 594.69,942.77 597.97,939.31 601.24,935.86 604.51,932.4 607.79,928.93 611.06,925.47 614.33,922 617.61,918.52 620.88,915.04 624.16,911.56 627.43,908.08 630.7,904.6 633.98,901.12 637.25,897.63 640.52,894.14 643.8,890.66 647.07,887.17 650.34,883.69 653.62,880.22 656.89,876.74 660.17,873.25 663.44,869.76 666.71,866.24 669.99,862.71 673.26,859.17 676.53,855.64 679.81,852.1 683.08,848.55 686.36,844.98 689.63,841.39 692.9,837.76 696.18,834.09 699.45,830.37 702.72,826.6 706,822.79 709.27,818.93 712.55,815.03 715.82,811.1 719.09,807.14 722.37,803.16 725.64,799.15 728.91,795.13 732.19,791.09 735.46,787.01 738.74,782.9 742.01,778.77 745.28,774.61 748.56,770.43 751.83,766.25 755.1,762.06 758.38,757.87 761.65,753.64 764.93,749.38 768.2,745.11 771.47,740.84 774.75,736.61 778.02,732.41 781.29,728.28 784.57,724.15 787.84,720.02 791.11,715.93 794.39,711.89 797.66,707.95 800.94,704.13 804.21,700.46 807.48,696.8 810.76,693.21 814.03,689.81 817.3,686.69 820.58,683.97 823.85,681.57 827.13,679.38 830.4,677.38 833.67,675.53 836.95,673.77 840.22,672.19 843.49,670.92 846.77,669.73 850.04,669.17 853.32,669.17 856.59,669.17 859.86,669.17 863.14,669.17 866.41,669.17 869.68,669.17 872.96,669.17 876.23,669.17 879.51,669.17 882.78,669.17 886.05,669.17 889.33,669.17 892.6,669.17" fill="none" stroke="#05f505" stroke-width="4.2" stroke-linejoin="round"/>
</g>
<g fill="#000">
<rect x="330.3" y="627.2" width="565.6" height="5.2"/>
<rect x="330.3" y="1082.7" width="565.6" height="5.2"/>
<rect x="330.3" y="627.2" width="5.2" height="460.7"/>
<rect x="890.7" y="627.2" width="5.2" height="460.7"/>
</g>
<line x1="590.2" y1="971.6" x2="625" y2="971.6" stroke="#fa0505" stroke-width="1.6"/>
<circle cx="607.5" cy="971.6" r="4.9" fill="#fa0505"/><circle cx="607" cy="970.9" r="2.1" fill="#ff8a8a"/>
<text class="s" transform="translate(630,977.9)" font-size="25" textLength="146.7" lengthAdjust="spacingAndGlyphs">C<tspan dy="5" font-size="15.5">60</tspan><tspan dy="-5">/SnO</tspan><tspan dy="5" font-size="15.5">2</tspan><tspan dy="-5">/IAI</tspan></text>
<line x1="590.2" y1="1006.4" x2="625" y2="1006.4" stroke="#0505fa" stroke-width="1.6"/>
<circle cx="607.5" cy="1006.4" r="4.9" fill="#0505fa"/><circle cx="607" cy="1005.7" r="2.1" fill="#8a8aff"/>
<text class="s" transform="translate(630,1012.7)" font-size="25" textLength="210.2" lengthAdjust="spacingAndGlyphs">C<tspan dy="5" font-size="15.5">60</tspan><tspan dy="-5">/WO</tspan><tspan dy="5" font-size="15.5">3</tspan><tspan dy="-5">/SnO</tspan><tspan dy="5" font-size="15.5">2</tspan><tspan dy="-5">/IAI</tspan></text>
<line x1="590.2" y1="1040.8" x2="625" y2="1040.8" stroke="#05f505" stroke-width="1.6"/>
<circle cx="607.5" cy="1040.8" r="4.9" fill="#05f505"/><circle cx="607" cy="1040.1" r="2.1" fill="#9cff9c"/>
<text class="s" transform="translate(630,1047.1)" font-size="25" textLength="139.7" lengthAdjust="spacingAndGlyphs">C<tspan dy="5" font-size="15.5">60</tspan><tspan dy="-5">/SnO</tspan><tspan dy="5" font-size="15.5">2</tspan><tspan dy="-5">/Cu</tspan></text>
<text class="s" transform="translate(1141.4,601.7)" font-size="39">(e)</text>
<g stroke="#000" stroke-width="3.6">
<line x1="1249.9" y1="1048.22" x2="1253.9" y2="1048.22" stroke-width="2.6"/>
<line x1="1249.9" y1="1001.94" x2="1256.9" y2="1001.94"/>
<line x1="1249.9" y1="955.66" x2="1253.9" y2="955.66" stroke-width="2.6"/>
<line x1="1249.9" y1="909.38" x2="1256.9" y2="909.38"/>
<line x1="1249.9" y1="863.1" x2="1253.9" y2="863.1" stroke-width="2.6"/>
<line x1="1249.9" y1="816.82" x2="1256.9" y2="816.82"/>
<line x1="1249.9" y1="770.54" x2="1253.9" y2="770.54" stroke-width="2.6"/>
<line x1="1249.9" y1="724.26" x2="1256.9" y2="724.26"/>
<line x1="1249.9" y1="677.98" x2="1253.9" y2="677.98" stroke-width="2.6"/>
<line x1="1299.24" y1="1094.5" x2="1299.24" y2="1089.5" stroke-width="2.6"/>
<line x1="1348.08" y1="1094.5" x2="1348.08" y2="1085" stroke-width="3.2"/>
<line x1="1396.92" y1="1094.5" x2="1396.92" y2="1089.5" stroke-width="2.6"/>
<line x1="1445.76" y1="1094.5" x2="1445.76" y2="1085" stroke-width="3.2"/>
<line x1="1494.6" y1="1094.5" x2="1494.6" y2="1089.5" stroke-width="2.6"/>
<line x1="1543.44" y1="1094.5" x2="1543.44" y2="1085" stroke-width="3.2"/>
<line x1="1592.28" y1="1094.5" x2="1592.28" y2="1089.5" stroke-width="2.6"/>
<line x1="1641.12" y1="1094.5" x2="1641.12" y2="1085" stroke-width="3.2"/>
<line x1="1689.96" y1="1094.5" x2="1689.96" y2="1089.5" stroke-width="2.6"/>
<line x1="1738.8" y1="1094.5" x2="1738.8" y2="1085" stroke-width="3.2"/>
<line x1="1787.64" y1="1094.5" x2="1787.64" y2="1089.5" stroke-width="2.6"/>
</g>
<text class="s" transform="translate(1241.6,1104.1) scale(1,1.2)" font-size="27.5" text-anchor="end" letter-spacing="1.2">0</text>
<text class="s" transform="translate(1241.6,1011.54) scale(1,1.2)" font-size="27.5" text-anchor="end" letter-spacing="1.2">5</text>
<text class="s" transform="translate(1241.6,918.98) scale(1,1.2)" font-size="27.5" text-anchor="end" letter-spacing="1.2">10</text>
<text class="s" transform="translate(1241.6,826.42) scale(1,1.2)" font-size="27.5" text-anchor="end" letter-spacing="1.2">15</text>
<text class="s" transform="translate(1241.6,733.86) scale(1,1.2)" font-size="27.5" text-anchor="end" letter-spacing="1.2">20</text>
<text class="s" transform="translate(1241.6,641.3) scale(1,1.2)" font-size="27.5" text-anchor="end" letter-spacing="1.2">25</text>
<text class="s" transform="translate(1250.4,1129.7) scale(1,1.08)" font-size="28" text-anchor="middle">0.0</text>
<text class="s" transform="translate(1348.08,1129.7) scale(1,1.08)" font-size="28" text-anchor="middle">0.2</text>
<text class="s" transform="translate(1445.76,1129.7) scale(1,1.08)" font-size="28" text-anchor="middle">0.4</text>
<text class="s" transform="translate(1543.44,1129.7) scale(1,1.08)" font-size="28" text-anchor="middle">0.6</text>
<text class="s" transform="translate(1641.12,1129.7) scale(1,1.08)" font-size="28" text-anchor="middle">0.8</text>
<text class="s" transform="translate(1738.8,1129.7) scale(1,1.08)" font-size="28" text-anchor="middle">1.0</text>
<text class="s" transform="translate(1529.3,1167.9) scale(1,1.2)" font-size="31" text-anchor="middle">Voltage (V)</text>
<text class="s" transform="translate(1173.9,863.6) rotate(-90) scale(0.82,1)" font-size="44" text-anchor="middle" textLength="587.8" lengthAdjust="spacing">Current Density (mA cm<tspan dy="-13.2" font-size="35.2">-2</tspan><tspan dy="13.2">)</tspan></text>
<clipPath id="clipe"><rect x="1249.1" y="631.7" width="563" height="463.3"/></clipPath>
<g fill="#000">
<rect x="1247.4" y="628.7" width="567.2" height="6"/>
<rect x="1247.4" y="1091.5" width="567.2" height="6"/>
<rect x="1247.4" y="628.7" width="5" height="468.8"/>
<rect x="1809.6" y="628.7" width="5" height="468.8"/>
</g>
<g clip-path="url(#clipe)">
<polyline points="1250.4,708.71 1260.17,708.82 1269.94,708.92 1279.7,709.02 1289.47,709.12 1299.24,709.22 1309.01,709.32 1318.78,709.43 1328.54,709.55 1338.31,709.68 1348.08,709.82 1357.85,709.98 1367.62,710.15 1377.38,710.35 1387.15,710.55 1396.92,710.78 1406.69,711.01 1416.46,711.26 1426.22,711.51 1435.99,711.77 1445.76,712.04 1455.53,712.32 1465.3,712.61 1475.06,712.91 1484.83,713.22 1494.6,713.56 1504.37,713.91 1514.14,714.29 1523.9,714.68 1533.67,715.11 1543.44,715.56 1553.21,716.03 1562.98,716.55 1572.74,717.14 1582.51,717.85 1592.28,718.71 1602.05,719.87 1611.82,721.44 1621.58,723.36 1631.35,725.58 1641.12,728.04 1650.89,731.17 1660.66,735.18 1670.42,740.16 1680.19,746.87 1689.96,757.58 1699.73,770.54 1709.5,790.9 1719.26,816.82 1729.03,850.04 1738.8,887.27 1748.57,928.8 1758.34,976.11 1768.1,1028.67 1777.87,1081.65 1780.61,1094.5" fill="none" stroke="#fa0505" stroke-width="2" stroke-linejoin="round"/>
<g fill="#fa0505">
<circle cx="1250.4" cy="708.71" r="5.5"/>
<polygon points="1250.4,701.91 1256,708.71 1250.4,715.51 1244.8,708.71"/>
<circle cx="1260.17" cy="708.82" r="5.5"/>
<polygon points="1260.17,702.02 1265.77,708.82 1260.17,715.62 1254.57,708.82"/>
<circle cx="1269.94" cy="708.92" r="5.5"/>
<polygon points="1269.94,702.12 1275.54,708.92 1269.94,715.72 1264.34,708.92"/>
<circle cx="1279.7" cy="709.02" r="5.5"/>
<polygon points="1279.7,702.22 1285.3,709.02 1279.7,715.82 1274.1,709.02"/>
<circle cx="1289.47" cy="709.12" r="5.5"/>
<polygon points="1289.47,702.32 1295.07,709.12 1289.47,715.92 1283.87,709.12"/>
<circle cx="1299.24" cy="709.22" r="5.5"/>
<polygon points="1299.24,702.42 1304.84,709.22 1299.24,716.02 1293.64,709.22"/>
<circle cx="1309.01" cy="709.32" r="5.5"/>
<polygon points="1309.01,702.52 1314.61,709.32 1309.01,716.12 1303.41,709.32"/>
<circle cx="1318.78" cy="709.43" r="5.5"/>
<polygon points="1318.78,702.63 1324.38,709.43 1318.78,716.23 1313.18,709.43"/>
<circle cx="1328.54" cy="709.55" r="5.5"/>
<polygon points="1328.54,702.75 1334.14,709.55 1328.54,716.35 1322.94,709.55"/>
<circle cx="1338.31" cy="709.68" r="5.5"/>
<polygon points="1338.31,702.88 1343.91,709.68 1338.31,716.48 1332.71,709.68"/>
<circle cx="1348.08" cy="709.82" r="5.5"/>
<polygon points="1348.08,703.02 1353.68,709.82 1348.08,716.62 1342.48,709.82"/>
<circle cx="1357.85" cy="709.98" r="5.5"/>
<polygon points="1357.85,703.18 1363.45,709.98 1357.85,716.78 1352.25,709.98"/>
<circle cx="1367.62" cy="710.15" r="5.5"/>
<polygon points="1367.62,703.35 1373.22,710.15 1367.62,716.95 1362.02,710.15"/>
<circle cx="1377.38" cy="710.35" r="5.5"/>
<polygon points="1377.38,703.55 1382.98,710.35 1377.38,717.15 1371.78,710.35"/>
<circle cx="1387.15" cy="710.55" r="5.5"/>
<polygon points="1387.15,703.75 1392.75,710.55 1387.15,717.35 1381.55,710.55"/>
<circle cx="1396.92" cy="710.78" r="5.5"/>
<polygon points="1396.92,703.98 1402.52,710.78 1396.92,717.58 1391.32,710.78"/>
<circle cx="1406.69" cy="711.01" r="5.5"/>
<polygon points="1406.69,704.21 1412.29,711.01 1406.69,717.81 1401.09,711.01"/>
<circle cx="1416.46" cy="711.26" r="5.5"/>
<polygon points="1416.46,704.46 1422.06,711.26 1416.46,718.06 1410.86,711.26"/>
<circle cx="1426.22" cy="711.51" r="5.5"/>
<polygon points="1426.22,704.71 1431.82,711.51 1426.22,718.31 1420.62,711.51"/>
<circle cx="1435.99" cy="711.77" r="5.5"/>
<polygon points="1435.99,704.97 1441.59,711.77 1435.99,718.57 1430.39,711.77"/>
<circle cx="1445.76" cy="712.04" r="5.5"/>
<polygon points="1445.76,705.24 1451.36,712.04 1445.76,718.84 1440.16,712.04"/>
<circle cx="1455.53" cy="712.32" r="5.5"/>
<polygon points="1455.53,705.52 1461.13,712.32 1455.53,719.12 1449.93,712.32"/>
<circle cx="1465.3" cy="712.61" r="5.5"/>
<polygon points="1465.3,705.81 1470.9,712.61 1465.3,719.41 1459.7,712.61"/>
<circle cx="1475.06" cy="712.91" r="5.5"/>
<polygon points="1475.06,706.11 1480.66,712.91 1475.06,719.71 1469.46,712.91"/>
<circle cx="1484.83" cy="713.22" r="5.5"/>
<polygon points="1484.83,706.42 1490.43,713.22 1484.83,720.02 1479.23,713.22"/>
<circle cx="1494.6" cy="713.56" r="5.5"/>
<polygon points="1494.6,706.76 1500.2,713.56 1494.6,720.36 1489,713.56"/>
<circle cx="1504.37" cy="713.91" r="5.5"/>
<polygon points="1504.37,707.11 1509.97,713.91 1504.37,720.71 1498.77,713.91"/>
<circle cx="1514.14" cy="714.29" r="5.5"/>
<polygon points="1514.14,707.49 1519.74,714.29 1514.14,721.09 1508.54,714.29"/>
<circle cx="1523.9" cy="714.68" r="5.5"/>
<polygon points="1523.9,707.88 1529.5,714.68 1523.9,721.48 1518.3,714.68"/>
<circle cx="1533.67" cy="715.11" r="5.5"/>
<polygon points="1533.67,708.31 1539.27,715.11 1533.67,721.91 1528.07,715.11"/>
<circle cx="1543.44" cy="715.56" r="5.5"/>
<polygon points="1543.44,708.76 1549.04,715.56 1543.44,722.36 1537.84,715.56"/>
<circle cx="1553.21" cy="716.03" r="5.5"/>
<polygon points="1553.21,709.23 1558.81,716.03 1553.21,722.83 1547.61,716.03"/>
<circle cx="1562.98" cy="716.55" r="5.5"/>
<polygon points="1562.98,709.75 1568.58,716.55 1562.98,723.35 1557.38,716.55"/>
<circle cx="1572.74" cy="717.14" r="5.5"/>
<polygon points="1572.74,710.34 1578.34,717.14 1572.74,723.94 1567.14,717.14"/>
<circle cx="1582.51" cy="717.85" r="5.5"/>
<polygon points="1582.51,711.05 1588.11,717.85 1582.51,724.65 1576.91,717.85"/>
<circle cx="1592.28" cy="718.71" r="5.5"/>
<polygon points="1592.28,711.91 1597.88,718.71 1592.28,725.51 1586.68,718.71"/>
<circle cx="1602.05" cy="719.87" r="5.5"/>
<polygon points="1602.05,713.07 1607.65,719.87 1602.05,726.67 1596.45,719.87"/>
<circle cx="1611.82" cy="721.44" r="5.5"/>
<polygon points="1611.82,714.64 1617.42,721.44 1611.82,728.24 1606.22,721.44"/>
<circle cx="1621.58" cy="723.36" r="5.5"/>
<polygon points="1621.58,716.56 1627.18,723.36 1621.58,730.16 1615.98,723.36"/>
<circle cx="1631.35" cy="725.58" r="5.5"/>
<polygon points="1631.35,718.78 1636.95,725.58 1631.35,732.38 1625.75,725.58"/>
<circle cx="1641.12" cy="728.04" r="5.5"/>
<polygon points="1641.12,721.24 1646.72,728.04 1641.12,734.84 1635.52,728.04"/>
<circle cx="1650.89" cy="731.17" r="5.5"/>
<polygon points="1650.89,724.37 1656.49,731.17 1650.89,737.97 1645.29,731.17"/>
<circle cx="1660.66" cy="735.18" r="5.5"/>
<polygon points="1660.66,728.38 1666.26,735.18 1660.66,741.98 1655.06,735.18"/>
<circle cx="1670.42" cy="740.16" r="5.5"/>
<polygon points="1670.42,733.36 1676.02,740.16 1670.42,746.96 1664.82,740.16"/>
<circle cx="1680.19" cy="746.87" r="5.5"/>
<polygon points="1680.19,740.07 1685.79,746.87 1680.19,753.67 1674.59,746.87"/>
<circle cx="1689.96" cy="757.58" r="5.5"/>
<polygon points="1689.96,750.78 1695.56,757.58 1689.96,764.38 1684.36,757.58"/>
<circle cx="1699.73" cy="770.54" r="5.5"/>
<polygon points="1699.73,763.74 1705.33,770.54 1699.73,777.34 1694.13,770.54"/>
<circle cx="1709.5" cy="790.9" r="5.5"/>
<polygon points="1709.5,784.1 1715.1,790.9 1709.5,797.7 1703.9,790.9"/>
<circle cx="1719.26" cy="816.82" r="5.5"/>
<polygon points="1719.26,810.02 1724.86,816.82 1719.26,823.62 1713.66,816.82"/>
<circle cx="1729.03" cy="850.04" r="5.5"/>
<polygon points="1729.03,843.24 1734.63,850.04 1729.03,856.84 1723.43,850.04"/>
<circle cx="1738.8" cy="887.27" r="5.5"/>
<polygon points="1738.8,880.47 1744.4,887.27 1738.8,894.07 1733.2,887.27"/>
<circle cx="1748.57" cy="928.8" r="5.5"/>
<polygon points="1748.57,922 1754.17,928.8 1748.57,935.6 1742.97,928.8"/>
<circle cx="1758.34" cy="976.11" r="5.5"/>
<polygon points="1758.34,969.31 1763.94,976.11 1758.34,982.91 1752.74,976.11"/>
<circle cx="1768.1" cy="1028.67" r="5.5"/>
<polygon points="1768.1,1021.87 1773.7,1028.67 1768.1,1035.47 1762.5,1028.67"/>
<circle cx="1777.87" cy="1081.65" r="5.5"/>
<polygon points="1777.87,1074.85 1783.47,1081.65 1777.87,1088.45 1772.27,1081.65"/>
</g><g fill="#ff9a9a">
<circle cx="1250.4" cy="708.71" r="1.7"/>
<circle cx="1260.17" cy="708.82" r="1.7"/>
<circle cx="1269.94" cy="708.92" r="1.7"/>
<circle cx="1279.7" cy="709.02" r="1.7"/>
<circle cx="1289.47" cy="709.12" r="1.7"/>
<circle cx="1299.24" cy="709.22" r="1.7"/>
<circle cx="1309.01" cy="709.32" r="1.7"/>
<circle cx="1318.78" cy="709.43" r="1.7"/>
<circle cx="1328.54" cy="709.55" r="1.7"/>
<circle cx="1338.31" cy="709.68" r="1.7"/>
<circle cx="1348.08" cy="709.82" r="1.7"/>
<circle cx="1357.85" cy="709.98" r="1.7"/>
<circle cx="1367.62" cy="710.15" r="1.7"/>
<circle cx="1377.38" cy="710.35" r="1.7"/>
<circle cx="1387.15" cy="710.55" r="1.7"/>
<circle cx="1396.92" cy="710.78" r="1.7"/>
<circle cx="1406.69" cy="711.01" r="1.7"/>
<circle cx="1416.46" cy="711.26" r="1.7"/>
<circle cx="1426.22" cy="711.51" r="1.7"/>
<circle cx="1435.99" cy="711.77" r="1.7"/>
<circle cx="1445.76" cy="712.04" r="1.7"/>
<circle cx="1455.53" cy="712.32" r="1.7"/>
<circle cx="1465.3" cy="712.61" r="1.7"/>
<circle cx="1475.06" cy="712.91" r="1.7"/>
<circle cx="1484.83" cy="713.22" r="1.7"/>
<circle cx="1494.6" cy="713.56" r="1.7"/>
<circle cx="1504.37" cy="713.91" r="1.7"/>
<circle cx="1514.14" cy="714.29" r="1.7"/>
<circle cx="1523.9" cy="714.68" r="1.7"/>
<circle cx="1533.67" cy="715.11" r="1.7"/>
<circle cx="1543.44" cy="715.56" r="1.7"/>
<circle cx="1553.21" cy="716.03" r="1.7"/>
<circle cx="1562.98" cy="716.55" r="1.7"/>
<circle cx="1572.74" cy="717.14" r="1.7"/>
<circle cx="1582.51" cy="717.85" r="1.7"/>
<circle cx="1592.28" cy="718.71" r="1.7"/>
<circle cx="1602.05" cy="719.87" r="1.7"/>
<circle cx="1611.82" cy="721.44" r="1.7"/>
<circle cx="1621.58" cy="723.36" r="1.7"/>
<circle cx="1631.35" cy="725.58" r="1.7"/>
<circle cx="1641.12" cy="728.04" r="1.7"/>
<circle cx="1650.89" cy="731.17" r="1.7"/>
<circle cx="1660.66" cy="735.18" r="1.7"/>
<circle cx="1670.42" cy="740.16" r="1.7"/>
<circle cx="1680.19" cy="746.87" r="1.7"/>
<circle cx="1689.96" cy="757.58" r="1.7"/>
<circle cx="1699.73" cy="770.54" r="1.7"/>
<circle cx="1709.5" cy="790.9" r="1.7"/>
<circle cx="1719.26" cy="816.82" r="1.7"/>
<circle cx="1729.03" cy="850.04" r="1.7"/>
<circle cx="1738.8" cy="887.27" r="1.7"/>
<circle cx="1748.57" cy="928.8" r="1.7"/>
<circle cx="1758.34" cy="976.11" r="1.7"/>
<circle cx="1768.1" cy="1028.67" r="1.7"/>
<circle cx="1777.87" cy="1081.65" r="1.7"/>
</g>
<polyline points="1250.4,706.86 1260.17,706.89 1269.94,706.93 1279.7,706.96 1289.47,706.99 1299.24,707.02 1309.01,707.05 1318.78,707.09 1328.54,707.13 1338.31,707.18 1348.08,707.23 1357.85,707.29 1367.62,707.37 1377.38,707.46 1387.15,707.56 1396.92,707.67 1406.69,707.79 1416.46,707.92 1426.22,708.05 1435.99,708.19 1445.76,708.34 1455.53,708.49 1465.3,708.66 1475.06,708.83 1484.83,709.02 1494.6,709.23 1504.37,709.45 1514.14,709.7 1523.9,709.96 1533.67,710.25 1543.44,710.56 1553.21,710.93 1562.98,711.37 1572.74,711.89 1582.51,712.48 1592.28,713.15 1602.05,713.93 1611.82,714.85 1621.58,715.94 1631.35,717.21 1641.12,718.68 1650.89,720.67 1660.66,723.33 1670.42,727.25 1680.19,731.89 1689.96,736.36 1699.73,741.49 1709.5,748.33 1719.26,760.82 1729.03,777.1 1738.8,802.92 1748.57,834.17 1758.34,878.55 1768.1,936.87 1777.87,1018.63 1786.42,1094.5" fill="none" stroke="#0505fa" stroke-width="2" stroke-linejoin="round"/>
<g fill="#0505fa">
<circle cx="1250.4" cy="706.86" r="5.5"/>
<polygon points="1250.4,700.06 1256,706.86 1250.4,713.66 1244.8,706.86"/>
<circle cx="1260.17" cy="706.89" r="5.5"/>
<polygon points="1260.17,700.09 1265.77,706.89 1260.17,713.69 1254.57,706.89"/>
<circle cx="1269.94" cy="706.93" r="5.5"/>
<polygon points="1269.94,700.13 1275.54,706.93 1269.94,713.73 1264.34,706.93"/>
<circle cx="1279.7" cy="706.96" r="5.5"/>
<polygon points="1279.7,700.16 1285.3,706.96 1279.7,713.76 1274.1,706.96"/>
<circle cx="1289.47" cy="706.99" r="5.5"/>
<polygon points="1289.47,700.19 1295.07,706.99 1289.47,713.79 1283.87,706.99"/>
<circle cx="1299.24" cy="707.02" r="5.5"/>
<polygon points="1299.24,700.22 1304.84,707.02 1299.24,713.82 1293.64,707.02"/>
<circle cx="1309.01" cy="707.05" r="5.5"/>
<polygon points="1309.01,700.25 1314.61,707.05 1309.01,713.85 1303.41,707.05"/>
<circle cx="1318.78" cy="707.09" r="5.5"/>
<polygon points="1318.78,700.29 1324.38,707.09 1318.78,713.89 1313.18,707.09"/>
<circle cx="1328.54" cy="707.13" r="5.5"/>
<polygon points="1328.54,700.33 1334.14,707.13 1328.54,713.93 1322.94,707.13"/>
<circle cx="1338.31" cy="707.18" r="5.5"/>
<polygon points="1338.31,700.38 1343.91,707.18 1338.31,713.98 1332.71,707.18"/>
<circle cx="1348.08" cy="707.23" r="5.5"/>
<polygon points="1348.08,700.43 1353.68,707.23 1348.08,714.03 1342.48,707.23"/>
<circle cx="1357.85" cy="707.29" r="5.5"/>
<polygon points="1357.85,700.49 1363.45,707.29 1357.85,714.09 1352.25,707.29"/>
<circle cx="1367.62" cy="707.37" r="5.5"/>
<polygon points="1367.62,700.57 1373.22,707.37 1367.62,714.17 1362.02,707.37"/>
<circle cx="1377.38" cy="707.46" r="5.5"/>
<polygon points="1377.38,700.66 1382.98,707.46 1377.38,714.26 1371.78,707.46"/>
<circle cx="1387.15" cy="707.56" r="5.5"/>
<polygon points="1387.15,700.76 1392.75,707.56 1387.15,714.36 1381.55,707.56"/>
<circle cx="1396.92" cy="707.67" r="5.5"/>
<polygon points="1396.92,700.87 1402.52,707.67 1396.92,714.47 1391.32,707.67"/>
<circle cx="1406.69" cy="707.79" r="5.5"/>
<polygon points="1406.69,700.99 1412.29,707.79 1406.69,714.59 1401.09,707.79"/>
<circle cx="1416.46" cy="707.92" r="5.5"/>
<polygon points="1416.46,701.12 1422.06,707.92 1416.46,714.72 1410.86,707.92"/>
<circle cx="1426.22" cy="708.05" r="5.5"/>
<polygon points="1426.22,701.25 1431.82,708.05 1426.22,714.85 1420.62,708.05"/>
<circle cx="1435.99" cy="708.19" r="5.5"/>
<polygon points="1435.99,701.39 1441.59,708.19 1435.99,714.99 1430.39,708.19"/>
<circle cx="1445.76" cy="708.34" r="5.5"/>
<polygon points="1445.76,701.54 1451.36,708.34 1445.76,715.14 1440.16,708.34"/>
<circle cx="1455.53" cy="708.49" r="5.5"/>
<polygon points="1455.53,701.69 1461.13,708.49 1455.53,715.29 1449.93,708.49"/>
<circle cx="1465.3" cy="708.66" r="5.5"/>
<polygon points="1465.3,701.86 1470.9,708.66 1465.3,715.46 1459.7,708.66"/>
<circle cx="1475.06" cy="708.83" r="5.5"/>
<polygon points="1475.06,702.03 1480.66,708.83 1475.06,715.63 1469.46,708.83"/>
<circle cx="1484.83" cy="709.02" r="5.5"/>
<polygon points="1484.83,702.22 1490.43,709.02 1484.83,715.82 1479.23,709.02"/>
<circle cx="1494.6" cy="709.23" r="5.5"/>
<polygon points="1494.6,702.43 1500.2,709.23 1494.6,716.03 1489,709.23"/>
<circle cx="1504.37" cy="709.45" r="5.5"/>
<polygon points="1504.37,702.65 1509.97,709.45 1504.37,716.25 1498.77,709.45"/>
<circle cx="1514.14" cy="709.7" r="5.5"/>
<polygon points="1514.14,702.9 1519.74,709.7 1514.14,716.5 1508.54,709.7"/>
<circle cx="1523.9" cy="709.96" r="5.5"/>
<polygon points="1523.9,703.16 1529.5,709.96 1523.9,716.76 1518.3,709.96"/>
<circle cx="1533.67" cy="710.25" r="5.5"/>
<polygon points="1533.67,703.45 1539.27,710.25 1533.67,717.05 1528.07,710.25"/>
<circle cx="1543.44" cy="710.56" r="5.5"/>
<polygon points="1543.44,703.76 1549.04,710.56 1543.44,717.36 1537.84,710.56"/>
<circle cx="1553.21" cy="710.93" r="5.5"/>
<polygon points="1553.21,704.13 1558.81,710.93 1553.21,717.73 1547.61,710.93"/>
<circle cx="1562.98" cy="711.37" r="5.5"/>
<polygon points="1562.98,704.57 1568.58,711.37 1562.98,718.17 1557.38,711.37"/>
<circle cx="1572.74" cy="711.89" r="5.5"/>
<polygon points="1572.74,705.09 1578.34,711.89 1572.74,718.69 1567.14,711.89"/>
<circle cx="1582.51" cy="712.48" r="5.5"/>
<polygon points="1582.51,705.68 1588.11,712.48 1582.51,719.28 1576.91,712.48"/>
<circle cx="1592.28" cy="713.15" r="5.5"/>
<polygon points="1592.28,706.35 1597.88,713.15 1592.28,719.95 1586.68,713.15"/>
<circle cx="1602.05" cy="713.93" r="5.5"/>
<polygon points="1602.05,707.13 1607.65,713.93 1602.05,720.73 1596.45,713.93"/>
<circle cx="1611.82" cy="714.85" r="5.5"/>
<polygon points="1611.82,708.05 1617.42,714.85 1611.82,721.65 1606.22,714.85"/>
<circle cx="1621.58" cy="715.94" r="5.5"/>
<polygon points="1621.58,709.14 1627.18,715.94 1621.58,722.74 1615.98,715.94"/>
<circle cx="1631.35" cy="717.21" r="5.5"/>
<polygon points="1631.35,710.41 1636.95,717.21 1631.35,724.01 1625.75,717.21"/>
<circle cx="1641.12" cy="718.68" r="5.5"/>
<polygon points="1641.12,711.88 1646.72,718.68 1641.12,725.48 1635.52,718.68"/>
<circle cx="1650.89" cy="720.67" r="5.5"/>
<polygon points="1650.89,713.87 1656.49,720.67 1650.89,727.47 1645.29,720.67"/>
<circle cx="1660.66" cy="723.33" r="5.5"/>
<polygon points="1660.66,716.53 1666.26,723.33 1660.66,730.13 1655.06,723.33"/>
<circle cx="1670.42" cy="727.25" r="5.5"/>
<polygon points="1670.42,720.45 1676.02,727.25 1670.42,734.05 1664.82,727.25"/>
<circle cx="1680.19" cy="731.89" r="5.5"/>
<polygon points="1680.19,725.09 1685.79,731.89 1680.19,738.69 1674.59,731.89"/>
<circle cx="1689.96" cy="736.36" r="5.5"/>
<polygon points="1689.96,729.56 1695.56,736.36 1689.96,743.16 1684.36,736.36"/>
<circle cx="1699.73" cy="741.49" r="5.5"/>
<polygon points="1699.73,734.69 1705.33,741.49 1699.73,748.29 1694.13,741.49"/>
<circle cx="1709.5" cy="748.33" r="5.5"/>
<polygon points="1709.5,741.53 1715.1,748.33 1709.5,755.13 1703.9,748.33"/>
<circle cx="1719.26" cy="760.82" r="5.5"/>
<polygon points="1719.26,754.02 1724.86,760.82 1719.26,767.62 1713.66,760.82"/>
<circle cx="1729.03" cy="777.1" r="5.5"/>
<polygon points="1729.03,770.3 1734.63,777.1 1729.03,783.9 1723.43,777.1"/>
<circle cx="1738.8" cy="802.92" r="5.5"/>
<polygon points="1738.8,796.12 1744.4,802.92 1738.8,809.72 1733.2,802.92"/>
<circle cx="1748.57" cy="834.17" r="5.5"/>
<polygon points="1748.57,827.37 1754.17,834.17 1748.57,840.97 1742.97,834.17"/>
<circle cx="1758.34" cy="878.55" r="5.5"/>
<polygon points="1758.34,871.75 1763.94,878.55 1758.34,885.35 1752.74,878.55"/>
<circle cx="1768.1" cy="936.87" r="5.5"/>
<polygon points="1768.1,930.07 1773.7,936.87 1768.1,943.67 1762.5,936.87"/>
<circle cx="1777.87" cy="1018.63" r="5.5"/>
<polygon points="1777.87,1011.83 1783.47,1018.63 1777.87,1025.43 1772.27,1018.63"/>
</g><g fill="#9a9aff">
<circle cx="1250.4" cy="706.86" r="1.7"/>
<circle cx="1260.17" cy="706.89" r="1.7"/>
<circle cx="1269.94" cy="706.93" r="1.7"/>
<circle cx="1279.7" cy="706.96" r="1.7"/>
<circle cx="1289.47" cy="706.99" r="1.7"/>
<circle cx="1299.24" cy="707.02" r="1.7"/>
<circle cx="1309.01" cy="707.05" r="1.7"/>
<circle cx="1318.78" cy="707.09" r="1.7"/>
<circle cx="1328.54" cy="707.13" r="1.7"/>
<circle cx="1338.31" cy="707.18" r="1.7"/>
<circle cx="1348.08" cy="707.23" r="1.7"/>
<circle cx="1357.85" cy="707.29" r="1.7"/>
<circle cx="1367.62" cy="707.37" r="1.7"/>
<circle cx="1377.38" cy="707.46" r="1.7"/>
<circle cx="1387.15" cy="707.56" r="1.7"/>
<circle cx="1396.92" cy="707.67" r="1.7"/>
<circle cx="1406.69" cy="707.79" r="1.7"/>
<circle cx="1416.46" cy="707.92" r="1.7"/>
<circle cx="1426.22" cy="708.05" r="1.7"/>
<circle cx="1435.99" cy="708.19" r="1.7"/>
<circle cx="1445.76" cy="708.34" r="1.7"/>
<circle cx="1455.53" cy="708.49" r="1.7"/>
<circle cx="1465.3" cy="708.66" r="1.7"/>
<circle cx="1475.06" cy="708.83" r="1.7"/>
<circle cx="1484.83" cy="709.02" r="1.7"/>
<circle cx="1494.6" cy="709.23" r="1.7"/>
<circle cx="1504.37" cy="709.45" r="1.7"/>
<circle cx="1514.14" cy="709.7" r="1.7"/>
<circle cx="1523.9" cy="709.96" r="1.7"/>
<circle cx="1533.67" cy="710.25" r="1.7"/>
<circle cx="1543.44" cy="710.56" r="1.7"/>
<circle cx="1553.21" cy="710.93" r="1.7"/>
<circle cx="1562.98" cy="711.37" r="1.7"/>
<circle cx="1572.74" cy="711.89" r="1.7"/>
<circle cx="1582.51" cy="712.48" r="1.7"/>
<circle cx="1592.28" cy="713.15" r="1.7"/>
<circle cx="1602.05" cy="713.93" r="1.7"/>
<circle cx="1611.82" cy="714.85" r="1.7"/>
<circle cx="1621.58" cy="715.94" r="1.7"/>
<circle cx="1631.35" cy="717.21" r="1.7"/>
<circle cx="1641.12" cy="718.68" r="1.7"/>
<circle cx="1650.89" cy="720.67" r="1.7"/>
<circle cx="1660.66" cy="723.33" r="1.7"/>
<circle cx="1670.42" cy="727.25" r="1.7"/>
<circle cx="1680.19" cy="731.89" r="1.7"/>
<circle cx="1689.96" cy="736.36" r="1.7"/>
<circle cx="1699.73" cy="741.49" r="1.7"/>
<circle cx="1709.5" cy="748.33" r="1.7"/>
<circle cx="1719.26" cy="760.82" r="1.7"/>
<circle cx="1729.03" cy="777.1" r="1.7"/>
<circle cx="1738.8" cy="802.92" r="1.7"/>
<circle cx="1748.57" cy="834.17" r="1.7"/>
<circle cx="1758.34" cy="878.55" r="1.7"/>
<circle cx="1768.1" cy="936.87" r="1.7"/>
<circle cx="1777.87" cy="1018.63" r="1.7"/>
</g>
<polyline points="1250.4,698.53 1260.17,698.56 1269.94,698.6 1279.7,698.63 1289.47,698.66 1299.24,698.7 1309.01,698.73 1318.78,698.77 1328.54,698.81 1338.31,698.85 1348.08,698.9 1357.85,698.95 1367.62,699.01 1377.38,699.07 1387.15,699.14 1396.92,699.21 1406.69,699.28 1416.46,699.37 1426.22,699.45 1435.99,699.54 1445.76,699.64 1455.53,699.74 1465.3,699.86 1475.06,699.98 1484.83,700.12 1494.6,700.26 1504.37,700.41 1514.14,700.58 1523.9,700.75 1533.67,700.93 1543.44,701.12 1553.21,701.32 1562.98,701.54 1572.74,701.78 1582.51,702.07 1592.28,702.42 1602.05,702.87 1611.82,703.45 1621.58,704.15 1631.35,704.96 1641.12,705.84 1650.89,706.91 1660.66,708.34 1670.42,710.52 1680.19,713.29 1689.96,716.15 1699.73,720.14 1709.5,727.96 1719.26,742.5 1729.03,760.54 1738.8,788.66 1748.57,819.6 1758.34,865.61 1768.1,921.23 1777.87,991.94 1787.64,1055.43 1791.55,1094.5" fill="none" stroke="#05f505" stroke-width="2" stroke-linejoin="round"/>
<g fill="#05f505">
<circle cx="1250.4" cy="698.53" r="5.5"/>
<polygon points="1250.4,691.73 1256,698.53 1250.4,705.33 1244.8,698.53"/>
<circle cx="1260.17" cy="698.56" r="5.5"/>
<polygon points="1260.17,691.76 1265.77,698.56 1260.17,705.36 1254.57,698.56"/>
<circle cx="1269.94" cy="698.6" r="5.5"/>
<polygon points="1269.94,691.8 1275.54,698.6 1269.94,705.4 1264.34,698.6"/>
<circle cx="1279.7" cy="698.63" r="5.5"/>
<polygon points="1279.7,691.83 1285.3,698.63 1279.7,705.43 1274.1,698.63"/>
<circle cx="1289.47" cy="698.66" r="5.5"/>
<polygon points="1289.47,691.86 1295.07,698.66 1289.47,705.46 1283.87,698.66"/>
<circle cx="1299.24" cy="698.7" r="5.5"/>
<polygon points="1299.24,691.9 1304.84,698.7 1299.24,705.5 1293.64,698.7"/>
<circle cx="1309.01" cy="698.73" r="5.5"/>
<polygon points="1309.01,691.93 1314.61,698.73 1309.01,705.53 1303.41,698.73"/>
<circle cx="1318.78" cy="698.77" r="5.5"/>
<polygon points="1318.78,691.97 1324.38,698.77 1318.78,705.57 1313.18,698.77"/>
<circle cx="1328.54" cy="698.81" r="5.5"/>
<polygon points="1328.54,692.01 1334.14,698.81 1328.54,705.61 1322.94,698.81"/>
<circle cx="1338.31" cy="698.85" r="5.5"/>
<polygon points="1338.31,692.05 1343.91,698.85 1338.31,705.65 1332.71,698.85"/>
<circle cx="1348.08" cy="698.9" r="5.5"/>
<polygon points="1348.08,692.1 1353.68,698.9 1348.08,705.7 1342.48,698.9"/>
<circle cx="1357.85" cy="698.95" r="5.5"/>
<polygon points="1357.85,692.15 1363.45,698.95 1357.85,705.75 1352.25,698.95"/>
<circle cx="1367.62" cy="699.01" r="5.5"/>
<polygon points="1367.62,692.21 1373.22,699.01 1367.62,705.81 1362.02,699.01"/>
<circle cx="1377.38" cy="699.07" r="5.5"/>
<polygon points="1377.38,692.27 1382.98,699.07 1377.38,705.87 1371.78,699.07"/>
<circle cx="1387.15" cy="699.14" r="5.5"/>
<polygon points="1387.15,692.34 1392.75,699.14 1387.15,705.94 1381.55,699.14"/>
<circle cx="1396.92" cy="699.21" r="5.5"/>
<polygon points="1396.92,692.41 1402.52,699.21 1396.92,706.01 1391.32,699.21"/>
<circle cx="1406.69" cy="699.28" r="5.5"/>
<polygon points="1406.69,692.48 1412.29,699.28 1406.69,706.08 1401.09,699.28"/>
<circle cx="1416.46" cy="699.37" r="5.5"/>
<polygon points="1416.46,692.57 1422.06,699.37 1416.46,706.17 1410.86,699.37"/>
<circle cx="1426.22" cy="699.45" r="5.5"/>
<polygon points="1426.22,692.65 1431.82,699.45 1426.22,706.25 1420.62,699.45"/>
<circle cx="1435.99" cy="699.54" r="5.5"/>
<polygon points="1435.99,692.74 1441.59,699.54 1435.99,706.34 1430.39,699.54"/>
<circle cx="1445.76" cy="699.64" r="5.5"/>
<polygon points="1445.76,692.84 1451.36,699.64 1445.76,706.44 1440.16,699.64"/>
<circle cx="1455.53" cy="699.74" r="5.5"/>
<polygon points="1455.53,692.94 1461.13,699.74 1455.53,706.54 1449.93,699.74"/>
<circle cx="1465.3" cy="699.86" r="5.5"/>
<polygon points="1465.3,693.06 1470.9,699.86 1465.3,706.66 1459.7,699.86"/>
<circle cx="1475.06" cy="699.98" r="5.5"/>
<polygon points="1475.06,693.18 1480.66,699.98 1475.06,706.78 1469.46,699.98"/>
<circle cx="1484.83" cy="700.12" r="5.5"/>
<polygon points="1484.83,693.32 1490.43,700.12 1484.83,706.92 1479.23,700.12"/>
<circle cx="1494.6" cy="700.26" r="5.5"/>
<polygon points="1494.6,693.46 1500.2,700.26 1494.6,707.06 1489,700.26"/>
<circle cx="1504.37" cy="700.41" r="5.5"/>
<polygon points="1504.37,693.61 1509.97,700.41 1504.37,707.21 1498.77,700.41"/>
<circle cx="1514.14" cy="700.58" r="5.5"/>
<polygon points="1514.14,693.78 1519.74,700.58 1514.14,707.38 1508.54,700.58"/>
<circle cx="1523.9" cy="700.75" r="5.5"/>
<polygon points="1523.9,693.95 1529.5,700.75 1523.9,707.55 1518.3,700.75"/>
<circle cx="1533.67" cy="700.93" r="5.5"/>
<polygon points="1533.67,694.13 1539.27,700.93 1533.67,707.73 1528.07,700.93"/>
<circle cx="1543.44" cy="701.12" r="5.5"/>
<polygon points="1543.44,694.32 1549.04,701.12 1543.44,707.92 1537.84,701.12"/>
<circle cx="1553.21" cy="701.32" r="5.5"/>
<polygon points="1553.21,694.52 1558.81,701.32 1553.21,708.12 1547.61,701.32"/>
<circle cx="1562.98" cy="701.54" r="5.5"/>
<polygon points="1562.98,694.74 1568.58,701.54 1562.98,708.34 1557.38,701.54"/>
<circle cx="1572.74" cy="701.78" r="5.5"/>
<polygon points="1572.74,694.98 1578.34,701.78 1572.74,708.58 1567.14,701.78"/>
<circle cx="1582.51" cy="702.07" r="5.5"/>
<polygon points="1582.51,695.27 1588.11,702.07 1582.51,708.87 1576.91,702.07"/>
<circle cx="1592.28" cy="702.42" r="5.5"/>
<polygon points="1592.28,695.62 1597.88,702.42 1592.28,709.22 1586.68,702.42"/>
<circle cx="1602.05" cy="702.87" r="5.5"/>
<polygon points="1602.05,696.07 1607.65,702.87 1602.05,709.67 1596.45,702.87"/>
<circle cx="1611.82" cy="703.45" r="5.5"/>
<polygon points="1611.82,696.65 1617.42,703.45 1611.82,710.25 1606.22,703.45"/>
<circle cx="1621.58" cy="704.15" r="5.5"/>
<polygon points="1621.58,697.35 1627.18,704.15 1621.58,710.95 1615.98,704.15"/>
<circle cx="1631.35" cy="704.96" r="5.5"/>
<polygon points="1631.35,698.16 1636.95,704.96 1631.35,711.76 1625.75,704.96"/>
<circle cx="1641.12" cy="705.84" r="5.5"/>
<polygon points="1641.12,699.04 1646.72,705.84 1641.12,712.64 1635.52,705.84"/>
<circle cx="1650.89" cy="706.91" r="5.5"/>
<polygon points="1650.89,700.11 1656.49,706.91 1650.89,713.71 1645.29,706.91"/>
<circle cx="1660.66" cy="708.34" r="5.5"/>
<polygon points="1660.66,701.54 1666.26,708.34 1660.66,715.14 1655.06,708.34"/>
<circle cx="1670.42" cy="710.52" r="5.5"/>
<polygon points="1670.42,703.72 1676.02,710.52 1670.42,717.32 1664.82,710.52"/>
<circle cx="1680.19" cy="713.29" r="5.5"/>
<polygon points="1680.19,706.49 1685.79,713.29 1680.19,720.09 1674.59,713.29"/>
<circle cx="1689.96" cy="716.15" r="5.5"/>
<polygon points="1689.96,709.35 1695.56,716.15 1689.96,722.95 1684.36,716.15"/>
<circle cx="1699.73" cy="720.14" r="5.5"/>
<polygon points="1699.73,713.34 1705.33,720.14 1699.73,726.94 1694.13,720.14"/>
<circle cx="1709.5" cy="727.96" r="5.5"/>
<polygon points="1709.5,721.16 1715.1,727.96 1709.5,734.76 1703.9,727.96"/>
<circle cx="1719.26" cy="742.5" r="5.5"/>
<polygon points="1719.26,735.7 1724.86,742.5 1719.26,749.3 1713.66,742.5"/>
<circle cx="1729.03" cy="760.54" r="5.5"/>
<polygon points="1729.03,753.74 1734.63,760.54 1729.03,767.34 1723.43,760.54"/>
<circle cx="1738.8" cy="788.66" r="5.5"/>
<polygon points="1738.8,781.86 1744.4,788.66 1738.8,795.46 1733.2,788.66"/>
<circle cx="1748.57" cy="819.6" r="5.5"/>
<polygon points="1748.57,812.8 1754.17,819.6 1748.57,826.4 1742.97,819.6"/>
<circle cx="1758.34" cy="865.61" r="5.5"/>
<polygon points="1758.34,858.81 1763.94,865.61 1758.34,872.41 1752.74,865.61"/>
<circle cx="1768.1" cy="921.23" r="5.5"/>
<polygon points="1768.1,914.43 1773.7,921.23 1768.1,928.03 1762.5,921.23"/>
<circle cx="1777.87" cy="991.94" r="5.5"/>
<polygon points="1777.87,985.14 1783.47,991.94 1777.87,998.74 1772.27,991.94"/>
<circle cx="1787.64" cy="1055.43" r="5.5"/>
<polygon points="1787.64,1048.63 1793.24,1055.43 1787.64,1062.23 1782.04,1055.43"/>
</g><g fill="#b0ffb0">
<circle cx="1250.4" cy="698.53" r="1.7"/>
<circle cx="1260.17" cy="698.56" r="1.7"/>
<circle cx="1269.94" cy="698.6" r="1.7"/>
<circle cx="1279.7" cy="698.63" r="1.7"/>
<circle cx="1289.47" cy="698.66" r="1.7"/>
<circle cx="1299.24" cy="698.7" r="1.7"/>
<circle cx="1309.01" cy="698.73" r="1.7"/>
<circle cx="1318.78" cy="698.77" r="1.7"/>
<circle cx="1328.54" cy="698.81" r="1.7"/>
<circle cx="1338.31" cy="698.85" r="1.7"/>
<circle cx="1348.08" cy="698.9" r="1.7"/>
<circle cx="1357.85" cy="698.95" r="1.7"/>
<circle cx="1367.62" cy="699.01" r="1.7"/>
<circle cx="1377.38" cy="699.07" r="1.7"/>
<circle cx="1387.15" cy="699.14" r="1.7"/>
<circle cx="1396.92" cy="699.21" r="1.7"/>
<circle cx="1406.69" cy="699.28" r="1.7"/>
<circle cx="1416.46" cy="699.37" r="1.7"/>
<circle cx="1426.22" cy="699.45" r="1.7"/>
<circle cx="1435.99" cy="699.54" r="1.7"/>
<circle cx="1445.76" cy="699.64" r="1.7"/>
<circle cx="1455.53" cy="699.74" r="1.7"/>
<circle cx="1465.3" cy="699.86" r="1.7"/>
<circle cx="1475.06" cy="699.98" r="1.7"/>
<circle cx="1484.83" cy="700.12" r="1.7"/>
<circle cx="1494.6" cy="700.26" r="1.7"/>
<circle cx="1504.37" cy="700.41" r="1.7"/>
<circle cx="1514.14" cy="700.58" r="1.7"/>
<circle cx="1523.9" cy="700.75" r="1.7"/>
<circle cx="1533.67" cy="700.93" r="1.7"/>
<circle cx="1543.44" cy="701.12" r="1.7"/>
<circle cx="1553.21" cy="701.32" r="1.7"/>
<circle cx="1562.98" cy="701.54" r="1.7"/>
<circle cx="1572.74" cy="701.78" r="1.7"/>
<circle cx="1582.51" cy="702.07" r="1.7"/>
<circle cx="1592.28" cy="702.42" r="1.7"/>
<circle cx="1602.05" cy="702.87" r="1.7"/>
<circle cx="1611.82" cy="703.45" r="1.7"/>
<circle cx="1621.58" cy="704.15" r="1.7"/>
<circle cx="1631.35" cy="704.96" r="1.7"/>
<circle cx="1641.12" cy="705.84" r="1.7"/>
<circle cx="1650.89" cy="706.91" r="1.7"/>
<circle cx="1660.66" cy="708.34" r="1.7"/>
<circle cx="1670.42" cy="710.52" r="1.7"/>
<circle cx="1680.19" cy="713.29" r="1.7"/>
<circle cx="1689.96" cy="716.15" r="1.7"/>
<circle cx="1699.73" cy="720.14" r="1.7"/>
<circle cx="1709.5" cy="727.96" r="1.7"/>
<circle cx="1719.26" cy="742.5" r="1.7"/>
<circle cx="1729.03" cy="760.54" r="1.7"/>
<circle cx="1738.8" cy="788.66" r="1.7"/>
<circle cx="1748.57" cy="819.6" r="1.7"/>
<circle cx="1758.34" cy="865.61" r="1.7"/>
<circle cx="1768.1" cy="921.23" r="1.7"/>
<circle cx="1777.87" cy="991.94" r="1.7"/>
<circle cx="1787.64" cy="1055.43" r="1.7"/>
</g>
</g>
<line x1="1282.2" y1="971.7" x2="1314.9" y2="971.7" stroke="#fa0505" stroke-width="2"/>
<g fill="#fa0505">
<circle cx="1298.5" cy="971.7" r="5"/>
<polygon points="1298.5,964.9 1304.1,971.7 1298.5,978.5 1292.9,971.7"/>
</g><g fill="#ff9a9a">
<circle cx="1298.5" cy="971.7" r="1.7"/>
</g>
<text class="s" transform="translate(1320.9,976.7) scale(1,1.06)" font-size="24.5" textLength="140" lengthAdjust="spacingAndGlyphs">C<tspan dy="4.9" font-size="15.19">60</tspan><tspan dy="-4.9">/SnO</tspan><tspan dy="4.9" font-size="15.19">2</tspan><tspan dy="-4.9">/IAI</tspan></text>
<line x1="1282.2" y1="1008.1" x2="1314.9" y2="1008.1" stroke="#0505fa" stroke-width="2"/>
<g fill="#0505fa">
<circle cx="1298.5" cy="1008.1" r="5"/>
<polygon points="1298.5,1001.3 1304.1,1008.1 1298.5,1014.9 1292.9,1008.1"/>
</g><g fill="#9a9aff">
<circle cx="1298.5" cy="1008.1" r="1.7"/>
</g>
<text class="s" transform="translate(1320.9,1013.1) scale(1,1.06)" font-size="24.5" textLength="198" lengthAdjust="spacingAndGlyphs">C<tspan dy="4.9" font-size="15.19">60</tspan><tspan dy="-4.9">/WO</tspan><tspan dy="4.9" font-size="15.19">3</tspan><tspan dy="-4.9">/SnO</tspan><tspan dy="4.9" font-size="15.19">2</tspan><tspan dy="-4.9">/IAI</tspan></text>
<line x1="1282.2" y1="1045" x2="1314.9" y2="1045" stroke="#05f505" stroke-width="2"/>
<g fill="#05f505">
<circle cx="1298.5" cy="1045" r="5"/>
<polygon points="1298.5,1038.2 1304.1,1045 1298.5,1051.8 1292.9,1045"/>
</g><g fill="#b0ffb0">
<circle cx="1298.5" cy="1045" r="1.7"/>
</g>
<text class="s" transform="translate(1320.9,1050) scale(1,1.06)" font-size="24.5" textLength="131.3" lengthAdjust="spacingAndGlyphs">C<tspan dy="4.9" font-size="15.19">60</tspan><tspan dy="-4.9">/SnO</tspan><tspan dy="4.9" font-size="15.19">2</tspan><tspan dy="-4.9">/Cu</tspan></text>
</svg>
</body>
</html>
